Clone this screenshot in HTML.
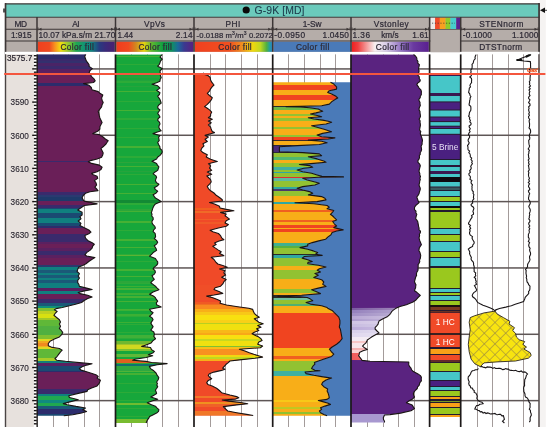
<!DOCTYPE html>
<html><head><meta charset="utf-8"><style>
html,body{margin:0;padding:0;background:#fff;}
body{width:550px;height:433px;overflow:hidden;position:relative;font-family:"Liberation Sans",Arial,sans-serif;}
svg text{font-family:"Liberation Sans",Arial,sans-serif;}
</style></head><body>
<svg width="550" height="433" viewBox="0 0 550 433" style="position:absolute;left:0;top:0"><defs><pattern id="hatch" width="7.6" height="7.6" patternUnits="userSpaceOnUse" patternTransform="translate(495 311) rotate(45)"><rect width="7.6" height="7.6" fill="#f8e410"/><path d="M0 0H7.6M0 0V7.6" stroke="#8c7c48" stroke-width="1.1"/></pattern></defs><rect x="0" y="0" width="550" height="433" fill="#ffffff"/><rect x="539.5" y="0" width="6.3" height="427" fill="#f5f3f2"/><rect x="5.5" y="54.2" width="533.5" height="372.8" fill="#ffffff"/><rect x="5.5" y="54.2" width="31.5" height="372.8" fill="#e7e1dd"/><rect x="53" y="54.2" width="1" height="372.8" fill="#a39b9a"/><rect x="68" y="54.2" width="1" height="372.8" fill="#a39b9a"/><rect x="84" y="54.2" width="1" height="372.8" fill="#a39b9a"/><rect x="99" y="54.2" width="1" height="372.8" fill="#a39b9a"/><rect x="131" y="54.2" width="1" height="372.8" fill="#a39b9a"/><rect x="147" y="54.2" width="1" height="372.8" fill="#a39b9a"/><rect x="162" y="54.2" width="1" height="372.8" fill="#a39b9a"/><rect x="178" y="54.2" width="1" height="372.8" fill="#a39b9a"/><rect x="210" y="54.2" width="1" height="372.8" fill="#a39b9a"/><rect x="225" y="54.2" width="1" height="372.8" fill="#a39b9a"/><rect x="241" y="54.2" width="1" height="372.8" fill="#a39b9a"/><rect x="257" y="54.2" width="1" height="372.8" fill="#a39b9a"/><rect x="288" y="54.2" width="1" height="372.8" fill="#a39b9a"/><rect x="304" y="54.2" width="1" height="372.8" fill="#a39b9a"/><rect x="320" y="54.2" width="1" height="372.8" fill="#a39b9a"/><rect x="335" y="54.2" width="1" height="372.8" fill="#a39b9a"/><rect x="367" y="54.2" width="1" height="372.8" fill="#a39b9a"/><rect x="383" y="54.2" width="1" height="372.8" fill="#a39b9a"/><rect x="398" y="54.2" width="1" height="372.8" fill="#a39b9a"/><rect x="414" y="54.2" width="1" height="372.8" fill="#a39b9a"/><rect x="477" y="54.2" width="1" height="372.8" fill="#a39b9a"/><rect x="492" y="54.2" width="1" height="372.8" fill="#a39b9a"/><rect x="508" y="54.2" width="1" height="372.8" fill="#a39b9a"/><rect x="523" y="54.2" width="1" height="372.8" fill="#a39b9a"/><rect x="37" y="68.18" width="502" height="1.5" fill="#5e5656"/><rect x="37" y="134.52" width="502" height="1.5" fill="#5e5656"/><rect x="37" y="200.86" width="502" height="1.5" fill="#5e5656"/><rect x="37" y="267.20" width="502" height="1.5" fill="#5e5656"/><rect x="37" y="333.54" width="502" height="1.5" fill="#5e5656"/><rect x="37" y="399.88" width="502" height="1.5" fill="#5e5656"/><clipPath id="c_ai"><polygon points="37,54.2 85.8,54.2 84.7,56.4 85.5,58.7 86.3,60.9 88.0,63.1 89.1,64.8 89.1,66.4 92.4,68.6 90.0,70.5 89.1,73.0 90.8,74.7 91.3,76.4 93.8,78.6 95.2,80.8 93.5,82.5 83.6,83.6 89.1,85.3 91.3,87.5 91.9,89.7 98.2,91.6 99.9,93.3 102.8,95.0 101.6,98.0 102.1,100.2 103.2,102.4 102.1,104.7 101.6,106.9 99.9,109.1 98.2,111.3 98.8,113.5 99.3,115.7 99.9,118.0 101.0,120.2 102.1,122.4 101.0,124.6 99.9,126.8 99.9,129.0 97.7,131.3 93.8,132.9 92.7,133.7 99.3,134.6 102.7,136.8 105.4,139.0 108.2,140.7 107.1,142.3 106.0,144.0 103.8,146.2 101.0,148.4 102.1,150.7 103.2,152.9 102.7,155.1 101.6,157.3 97.1,159.0 90.5,160.6 88.3,161.7 91.6,163.4 99.3,165.1 102.1,167.3 101.0,169.5 97.1,171.7 91.6,173.4 92.7,174.5 97.1,176.2 97.7,178.4 94.4,180.6 96.0,182.8 96.6,185.0 94.9,187.2 97.1,189.5 98.0,190.6 89.9,191.7 85.5,193.3 83.2,195.5 82.1,197.8 83.2,200.0 84.3,201.1 92.1,202.7 97.1,203.9 84.3,205.5 81.0,207.7 77.7,210.0 82.1,212.2 82.1,215.0 79.9,216.6 81.0,218.8 78.2,221.0 81.0,223.3 79.9,225.5 84.3,227.7 88.8,229.9 91.0,232.1 88.8,233.8 84.9,235.5 85.5,238.2 87.7,240.4 92.1,242.7 94.3,244.3 92.7,246.0 92.1,248.2 89.9,250.4 86.6,252.6 84.9,254.8 86.6,256.0 94.9,257.6 92.1,259.3 88.8,261.5 86.0,263.7 82.7,265.4 78.8,267.0 77.7,269.3 77.1,271.5 79.4,273.7 78.2,275.9 79.4,278.1 77.7,280.3 77.7,282.6 78.8,284.2 79.4,286.4 86.6,288.1 92.1,289.5 84.3,290.9 78.2,292.5 79.9,293.6 87.7,295.3 92.1,297.0 87.7,298.6 83.8,300.8 81.6,302.5 75.5,304.2 69.4,305.8 62.2,307.5 56.1,308.6 54.4,309.7 57.2,311.4 55.5,313.0 53.9,315.3 56.6,317.5 59.4,319.7 60.5,321.9 59.4,324.1 60.5,326.3 59.4,328.6 61.1,330.2 62.7,332.4 61.6,334.7 59.4,336.9 54.4,339.1 50.0,341.3 48.3,343.5 48.3,345.7 52.2,347.4 59.4,348.5 62.2,350.2 60.5,351.8 58.8,354.1 57.2,356.3 55.0,358.5 56.6,360.2 65.5,361.3 82.1,362.9 92.1,363.7 86.6,365.1 82.1,366.8 79.4,368.5 81.0,370.1 86.6,371.8 92.1,373.5 96.5,375.1 98.2,376.4 97.1,378.1 100.4,380.3 99.3,383.1 97.1,385.9 91.6,388.1 87.7,389.7 87.1,391.4 77.2,393.6 68.8,395.8 69.4,397.5 78.3,399.7 71.6,401.4 63.3,403.6 67.2,404.7 76.0,406.4 85.5,408.0 82.7,409.7 86.6,411.4 81.6,413.0 72.7,414.7 63.8,415.8 37,415.8"/></clipPath><g clip-path="url(#c_ai)"><g shape-rendering="crispEdges"><rect x="37" y="54.2" width="78.5" height="4.5" fill="#2c2c6c"/><rect x="37" y="58.7" width="78.5" height="2.1999999999999957" fill="#3a2a6c"/><rect x="37" y="60.9" width="78.5" height="2.200000000000003" fill="#33306e"/><rect x="37" y="63.1" width="78.5" height="3.3000000000000043" fill="#4a2466"/><rect x="37" y="66.4" width="78.5" height="2.1999999999999886" fill="#3a2a6c"/><rect x="37" y="68.6" width="78.5" height="3.9000000000000057" fill="#5a2060"/><rect x="37" y="72.5" width="78.5" height="10.5" fill="#6a1f58"/><rect x="37" y="83" width="78.5" height="2.799999999999997" fill="#2c2c6c"/><rect x="37" y="85.8" width="78.5" height="75.39999999999999" fill="#6a1f58"/><rect x="37" y="161.2" width="78.5" height="1.0" fill="#3a2a6c"/><rect x="37" y="162.2" width="78.5" height="30.0" fill="#6a1f58"/><rect x="37" y="192.2" width="78.5" height="2.8000000000000114" fill="#3a2a6c"/><rect x="37" y="195" width="78.5" height="1.6999999999999886" fill="#2a3a70"/><rect x="37" y="196.7" width="78.5" height="3.8000000000000114" fill="#1e3a6a"/><rect x="37" y="200.5" width="78.5" height="4.5" fill="#6a1f58"/><rect x="37" y="205" width="78.5" height="2.6999999999999886" fill="#3a2a6c"/><rect x="37" y="207.7" width="78.5" height="1.700000000000017" fill="#1a4a72"/><rect x="37" y="209.4" width="78.5" height="3.9000000000000057" fill="#10807f"/><rect x="37" y="213.3" width="78.5" height="5.0" fill="#1a4a72"/><rect x="37" y="218.3" width="78.5" height="4.399999999999977" fill="#10807f"/><rect x="37" y="222.7" width="78.5" height="2.8000000000000114" fill="#1a4a72"/><rect x="37" y="225.5" width="78.5" height="2.6999999999999886" fill="#2c2c6c"/><rect x="37" y="228.2" width="78.5" height="5.600000000000023" fill="#6a1f58"/><rect x="37" y="233.8" width="78.5" height="7.699999999999989" fill="#3a2a6c"/><rect x="37" y="241.5" width="78.5" height="2.8000000000000114" fill="#5a2060"/><rect x="37" y="244.3" width="78.5" height="3.8999999999999773" fill="#6a1f58"/><rect x="37" y="248.2" width="78.5" height="2.8000000000000114" fill="#5a2060"/><rect x="37" y="251" width="78.5" height="4.400000000000006" fill="#3a2a6c"/><rect x="37" y="255.4" width="78.5" height="2.200000000000017" fill="#5a2060"/><rect x="37" y="257.6" width="78.5" height="7.199999999999989" fill="#6a1f58"/><rect x="37" y="264.8" width="78.5" height="2.1999999999999886" fill="#2a3a6e"/><rect x="37" y="267" width="78.5" height="3.3999999999999773" fill="#10807f"/><rect x="37" y="270.4" width="78.5" height="2.2000000000000455" fill="#1a5a78"/><rect x="37" y="272.6" width="78.5" height="2.7999999999999545" fill="#10807f"/><rect x="37" y="275.4" width="78.5" height="2.2000000000000455" fill="#1a5a78"/><rect x="37" y="277.6" width="78.5" height="2.6999999999999886" fill="#10807f"/><rect x="37" y="280.3" width="78.5" height="2.1999999999999886" fill="#1a5a78"/><rect x="37" y="282.5" width="78.5" height="5.0" fill="#10807f"/><rect x="37" y="287.5" width="78.5" height="3.8999999999999773" fill="#5a2060"/><rect x="37" y="291.4" width="78.5" height="2.8000000000000114" fill="#10807f"/><rect x="37" y="294.2" width="78.5" height="5.0" fill="#6a1f58"/><rect x="37" y="299.2" width="78.5" height="3.900000000000034" fill="#3a2a6c"/><rect x="37" y="303.1" width="78.5" height="2.6999999999999886" fill="#1a5a78"/><rect x="37" y="305.8" width="78.5" height="2.1999999999999886" fill="#10907a"/><rect x="37" y="308" width="78.5" height="2.8000000000000114" fill="#80c030"/><rect x="37" y="310.8" width="78.5" height="2.8000000000000114" fill="#c0d020"/><rect x="37" y="313.6" width="78.5" height="3.8999999999999773" fill="#d8e010"/><rect x="37" y="317.5" width="78.5" height="2.6999999999999886" fill="#a0c828"/><rect x="37" y="320.2" width="78.5" height="6.100000000000023" fill="#60b838"/><rect x="37" y="326.3" width="78.5" height="8.399999999999977" fill="#50b040"/><rect x="37" y="334.7" width="78.5" height="3.8000000000000114" fill="#80c030"/><rect x="37" y="338.5" width="78.5" height="2.8000000000000114" fill="#e0d820"/><rect x="37" y="341.3" width="78.5" height="1.6999999999999886" fill="#f0a820"/><rect x="37" y="343" width="78.5" height="3" fill="#f08a20"/><rect x="37" y="346" width="78.5" height="1.3999999999999773" fill="#f0b020"/><rect x="37" y="347.4" width="78.5" height="1.1000000000000227" fill="#e0d820"/><rect x="37" y="348.5" width="78.5" height="9.399999999999977" fill="#60b838"/><rect x="37" y="357.9" width="78.5" height="3.400000000000034" fill="#a8cc28"/><rect x="37" y="361.3" width="78.5" height="1.599999999999966" fill="#10807a"/><rect x="37" y="362.9" width="78.5" height="3.3000000000000114" fill="#5a2060"/><rect x="37" y="366.2" width="78.5" height="4.5" fill="#1a4a72"/><rect x="37" y="370.7" width="78.5" height="1.6000000000000227" fill="#2c2c6c"/><rect x="37" y="372.3" width="78.5" height="16.30000000000001" fill="#6a1f58"/><rect x="37" y="388.6" width="78.5" height="5.599999999999966" fill="#3a2a6c"/><rect x="37" y="394.2" width="78.5" height="1.6000000000000227" fill="#10807f"/><rect x="37" y="395.8" width="78.5" height="3.8999999999999773" fill="#20a850"/><rect x="37" y="399.7" width="78.5" height="2.8000000000000114" fill="#108a80"/><rect x="37" y="402.5" width="78.5" height="3.8999999999999773" fill="#20a850"/><rect x="37" y="406.4" width="78.5" height="2.2000000000000455" fill="#1a5a78"/><rect x="37" y="408.6" width="78.5" height="5.0" fill="#2c2c6c"/><rect x="37" y="413.6" width="78.5" height="2.1999999999999886" fill="#1a4a72"/></g></g><polyline points="85.8,54.2 84.7,56.4 85.5,58.7 86.3,60.9 88.0,63.1 89.1,64.8 89.1,66.4 92.4,68.6 90.0,70.5 89.1,73.0 90.8,74.7 91.3,76.4 93.8,78.6 95.2,80.8 93.5,82.5 83.6,83.6 89.1,85.3 91.3,87.5 91.9,89.7 98.2,91.6 99.9,93.3 102.8,95.0 101.6,98.0 102.1,100.2 103.2,102.4 102.1,104.7 101.6,106.9 99.9,109.1 98.2,111.3 98.8,113.5 99.3,115.7 99.9,118.0 101.0,120.2 102.1,122.4 101.0,124.6 99.9,126.8 99.9,129.0 97.7,131.3 93.8,132.9 92.7,133.7 99.3,134.6 102.7,136.8 105.4,139.0 108.2,140.7 107.1,142.3 106.0,144.0 103.8,146.2 101.0,148.4 102.1,150.7 103.2,152.9 102.7,155.1 101.6,157.3 97.1,159.0 90.5,160.6 88.3,161.7 91.6,163.4 99.3,165.1 102.1,167.3 101.0,169.5 97.1,171.7 91.6,173.4 92.7,174.5 97.1,176.2 97.7,178.4 94.4,180.6 96.0,182.8 96.6,185.0 94.9,187.2 97.1,189.5 98.0,190.6 89.9,191.7 85.5,193.3 83.2,195.5 82.1,197.8 83.2,200.0 84.3,201.1 92.1,202.7 97.1,203.9 84.3,205.5 81.0,207.7 77.7,210.0 82.1,212.2 82.1,215.0 79.9,216.6 81.0,218.8 78.2,221.0 81.0,223.3 79.9,225.5 84.3,227.7 88.8,229.9 91.0,232.1 88.8,233.8 84.9,235.5 85.5,238.2 87.7,240.4 92.1,242.7 94.3,244.3 92.7,246.0 92.1,248.2 89.9,250.4 86.6,252.6 84.9,254.8 86.6,256.0 94.9,257.6 92.1,259.3 88.8,261.5 86.0,263.7 82.7,265.4 78.8,267.0 77.7,269.3 77.1,271.5 79.4,273.7 78.2,275.9 79.4,278.1 77.7,280.3 77.7,282.6 78.8,284.2 79.4,286.4 86.6,288.1 92.1,289.5 84.3,290.9 78.2,292.5 79.9,293.6 87.7,295.3 92.1,297.0 87.7,298.6 83.8,300.8 81.6,302.5 75.5,304.2 69.4,305.8 62.2,307.5 56.1,308.6 54.4,309.7 57.2,311.4 55.5,313.0 53.9,315.3 56.6,317.5 59.4,319.7 60.5,321.9 59.4,324.1 60.5,326.3 59.4,328.6 61.1,330.2 62.7,332.4 61.6,334.7 59.4,336.9 54.4,339.1 50.0,341.3 48.3,343.5 48.3,345.7 52.2,347.4 59.4,348.5 62.2,350.2 60.5,351.8 58.8,354.1 57.2,356.3 55.0,358.5 56.6,360.2 65.5,361.3 82.1,362.9 92.1,363.7 86.6,365.1 82.1,366.8 79.4,368.5 81.0,370.1 86.6,371.8 92.1,373.5 96.5,375.1 98.2,376.4 97.1,378.1 100.4,380.3 99.3,383.1 97.1,385.9 91.6,388.1 87.7,389.7 87.1,391.4 77.2,393.6 68.8,395.8 69.4,397.5 78.3,399.7 71.6,401.4 63.3,403.6 67.2,404.7 76.0,406.4 85.5,408.0 82.7,409.7 86.6,411.4 81.6,413.0 72.7,414.7 63.8,415.8" fill="none" stroke="#1a1414" stroke-width="1.1" stroke-linejoin="round"/><clipPath id="c_vp"><polygon points="115.5,54.4 162.3,54.4 160.0,57.0 162.3,59.2 160.5,61.0 160.0,62.7 159.2,64.5 157.7,66.2 162.3,68.5 160.0,70.8 160.2,72.5 160.0,74.2 160.6,76.0 161.2,77.7 160.1,79.5 160.0,81.2 156.5,82.7 152.0,84.2 157.7,85.8 160.0,88.1 156.6,90.4 160.0,92.7 159.4,94.5 157.7,96.2 158.9,97.9 160.0,99.6 160.6,101.3 161.2,103.1 159.0,104.8 157.7,106.6 158.0,108.3 160.0,110.0 158.6,111.8 157.7,113.5 159.0,115.2 160.0,117.0 158.1,118.7 157.7,120.4 159.4,122.2 160.0,123.9 159.0,125.7 158.9,127.4 159.6,129.1 161.2,130.8 153.0,133.6 160.0,135.5 158.6,137.2 158.9,138.9 159.2,140.7 157.7,142.4 158.9,145.0 159.9,146.8 160.0,148.5 161.8,150.2 162.3,151.9 161.4,153.7 160.0,155.4 157.5,157.2 156.6,158.9 152.0,161.2 156.6,163.5 157.4,165.2 158.9,166.9 158.3,168.7 157.7,170.4 154.7,172.2 153.1,173.9 155.7,175.6 156.6,177.3 155.8,179.1 155.4,180.8 156.5,182.6 158.9,184.3 157.2,186.0 154.3,187.7 155.3,189.4 157.7,191.2 156.2,192.9 153.1,194.7 154.2,196.4 155.4,198.1 158.4,199.8 161.2,201.6 155.4,203.9 154.0,205.7 153.1,207.4 152.5,209.1 152.0,210.8 151.4,212.6 152.0,214.3 151.7,216.0 153.1,217.7 153.2,219.4 152.0,221.2 152.1,222.9 153.1,224.7 154.8,226.4 155.4,228.1 153.7,229.8 153.1,231.6 155.1,233.3 155.4,235.0 155.6,236.8 154.3,238.5 156.5,240.4 157.7,242.3 156.5,244.1 154.3,245.8 155.2,247.3 156.2,248.9 156.6,250.4 153.6,252.2 152.0,253.9 149.6,256.2 155.4,258.5 156.5,260.2 157.7,261.9 157.7,263.6 156.6,265.4 154.3,267.1 153.1,268.9 155.0,270.6 155.4,272.3 154.4,274.1 152.0,275.8 153.0,277.6 154.3,279.3 152.3,281.0 150.8,282.7 153.0,284.4 155.4,286.2 156.9,287.9 158.9,289.7 153.1,292.0 149.6,294.3 153.4,296.0 155.4,297.7 156.3,299.4 157.7,301.2 156.3,302.9 156.6,304.7 161.2,307.0 149.6,309.3 150.6,311.0 153.1,312.7 151.7,314.4 149.6,316.2 152.2,317.9 153.1,319.7 151.9,321.4 150.8,323.1 151.9,324.9 153.1,326.6 152.0,328.4 150.8,330.1 153.8,332.0 154.4,334.2 153.8,336.4 155.5,338.7 152.7,340.9 151.0,343.1 146.6,344.7 141.6,346.4 150.5,347.5 151.6,349.7 154.4,351.4 152.7,353.1 148.3,354.7 152.7,355.8 146.0,357.5 135.0,359.2 132.7,360.3 146.0,361.4 151.6,362.5 167.1,363.6 157.1,364.7 149.4,366.4 150.5,368.6 153.8,370.8 156.0,373.0 157.1,375.2 158.8,377.5 158.2,379.7 156.6,382.0 157.4,383.5 156.8,385.1 157.7,386.6 156.7,388.3 155.4,390.0 156.1,391.8 156.6,393.5 153.9,395.2 150.8,397.0 157.7,399.3 151.9,401.0 147.3,402.7 150.8,404.4 155.4,406.2 156.9,407.9 158.9,409.7 158.5,411.4 156.6,413.1 152.8,414.9 149.6,416.6 148.6,418.4 147.3,420.1 146.1,423.0 115.5,423.0"/></clipPath><g clip-path="url(#c_vp)"><g shape-rendering="crispEdges"><rect x="115.5" y="54.4" width="78.5" height="368.6" fill="#17a73b"/><rect x="115.5" y="56.0" width="78.5" height="1.2000000000000028" fill="#46b134"/><rect x="115.5" y="64.3" width="78.5" height="1.0" fill="#2dab38"/><rect x="115.5" y="72.9" width="78.5" height="1.5" fill="#46b134"/><rect x="115.5" y="81.4" width="78.5" height="1.5" fill="#2dab38"/><rect x="115.5" y="90.5" width="78.5" height="1.0" fill="#46b134"/><rect x="115.5" y="100.6" width="78.5" height="1.0" fill="#2dab38"/><rect x="115.5" y="109.7" width="78.5" height="1.0" fill="#46b134"/><rect x="115.5" y="118.4" width="78.5" height="1.5" fill="#2dab38"/><rect x="115.5" y="128.3" width="78.5" height="1.0" fill="#2dab38"/><rect x="115.5" y="136.7" width="78.5" height="1.0" fill="#2dab38"/><rect x="115.5" y="146.4" width="78.5" height="1.5" fill="#46b134"/><rect x="115.5" y="156.1" width="78.5" height="1.5" fill="#2dab38"/><rect x="115.5" y="165.9" width="78.5" height="1.0" fill="#46b134"/><rect x="115.5" y="174.0" width="78.5" height="1.0" fill="#2dab38"/><rect x="115.5" y="184.3" width="78.5" height="1.0" fill="#46b134"/><rect x="115.5" y="192.8" width="78.5" height="1.5" fill="#46b134"/><rect x="115.5" y="203.2" width="78.5" height="1.5" fill="#2dab38"/><rect x="115.5" y="211.2" width="78.5" height="1.200000000000017" fill="#46b134"/><rect x="115.5" y="221.0" width="78.5" height="1.5" fill="#46b134"/><rect x="115.5" y="229.5" width="78.5" height="1.1999999999999886" fill="#2dab38"/><rect x="115.5" y="239.3" width="78.5" height="1.1999999999999886" fill="#46b134"/><rect x="115.5" y="247.1" width="78.5" height="1.0" fill="#46b134"/><rect x="115.5" y="253.7" width="78.5" height="1.200000000000017" fill="#2dab38"/><rect x="115.5" y="261.1" width="78.5" height="1.1999999999999886" fill="#2dab38"/><rect x="115.5" y="269.1" width="78.5" height="1.5" fill="#46b134"/><rect x="115.5" y="275.7" width="78.5" height="1.5" fill="#46b134"/><rect x="115.5" y="282.7" width="78.5" height="1.5" fill="#2dab38"/><rect x="115.5" y="288.3" width="78.5" height="1.1999999999999886" fill="#46b134"/><rect x="115.5" y="296.1" width="78.5" height="1.5" fill="#46b134"/><rect x="115.5" y="301.4" width="78.5" height="1.0" fill="#46b134"/><rect x="115.5" y="308.7" width="78.5" height="1.0" fill="#46b134"/><rect x="115.5" y="315.9" width="78.5" height="1.5" fill="#2dab38"/><rect x="115.5" y="323.7" width="78.5" height="1.1999999999999886" fill="#2dab38"/><rect x="115.5" y="331.7" width="78.5" height="1.0" fill="#2dab38"/><rect x="115.5" y="337.6" width="78.5" height="1.0" fill="#2dab38"/><rect x="115.5" y="373.3" width="78.5" height="1.1999999999999886" fill="#46b134"/><rect x="115.5" y="382.5" width="78.5" height="1.0" fill="#2dab38"/><rect x="115.5" y="391.6" width="78.5" height="1.5" fill="#2dab38"/><rect x="115.5" y="400.1" width="78.5" height="1.0" fill="#2dab38"/><rect x="115.5" y="408.0" width="78.5" height="1.0" fill="#2dab38"/><rect x="115.5" y="415.8" width="78.5" height="1.0" fill="#2dab38"/><rect x="115.5" y="76" width="78.5" height="2" fill="#22a43d"/><rect x="115.5" y="80" width="78.5" height="1" fill="#22a43d"/><rect x="115.5" y="86" width="78.5" height="1" fill="#26a43c"/><rect x="115.5" y="162" width="78.5" height="1" fill="#2ca63a"/><rect x="115.5" y="171" width="78.5" height="1" fill="#26a43c"/><rect x="115.5" y="200" width="78.5" height="3" fill="#128a34"/><rect x="115.5" y="209" width="78.5" height="2" fill="#2ca63a"/><rect x="115.5" y="254.8" width="78.5" height="1.1999999999999886" fill="#5cb434"/><rect x="115.5" y="281" width="78.5" height="2" fill="#2ca63a"/><rect x="115.5" y="285.7" width="78.5" height="1.1000000000000227" fill="#3cb034"/><rect x="115.5" y="292.9" width="78.5" height="2.2000000000000455" fill="#3cb034"/><rect x="115.5" y="309.5" width="78.5" height="1.6999999999999886" fill="#3cb034"/><rect x="115.5" y="313.9" width="78.5" height="1.7000000000000455" fill="#3cb034"/><rect x="115.5" y="321.7" width="78.5" height="1.6999999999999886" fill="#3cb034"/><rect x="115.5" y="335.3" width="78.5" height="2.1999999999999886" fill="#40b038"/><rect x="115.5" y="340.9" width="78.5" height="3.3000000000000114" fill="#70b830"/><rect x="115.5" y="344.2" width="78.5" height="1.1000000000000227" fill="#a0c428"/><rect x="115.5" y="345.3" width="78.5" height="3.3000000000000114" fill="#d0d820"/><rect x="115.5" y="348.6" width="78.5" height="2.7999999999999545" fill="#80c030"/><rect x="115.5" y="353.6" width="78.5" height="3.3999999999999773" fill="#60b838"/><rect x="115.5" y="359.2" width="78.5" height="3.3000000000000114" fill="#e06020"/><rect x="115.5" y="362.5" width="78.5" height="1.1000000000000227" fill="#30a838"/><rect x="115.5" y="363.6" width="78.5" height="2.1999999999999886" fill="#107070"/><rect x="115.5" y="365.8" width="78.5" height="5.0" fill="#30a840"/><rect x="115.5" y="370.8" width="78.5" height="1.1999999999999886" fill="#50b438"/><rect x="115.5" y="402.7" width="78.5" height="2.3000000000000114" fill="#70bc30"/><rect x="115.5" y="419" width="78.5" height="4" fill="#78bc30"/></g></g><polyline points="162.3,54.4 160.0,57.0 162.3,59.2 160.5,61.0 160.0,62.7 159.2,64.5 157.7,66.2 162.3,68.5 160.0,70.8 160.2,72.5 160.0,74.2 160.6,76.0 161.2,77.7 160.1,79.5 160.0,81.2 156.5,82.7 152.0,84.2 157.7,85.8 160.0,88.1 156.6,90.4 160.0,92.7 159.4,94.5 157.7,96.2 158.9,97.9 160.0,99.6 160.6,101.3 161.2,103.1 159.0,104.8 157.7,106.6 158.0,108.3 160.0,110.0 158.6,111.8 157.7,113.5 159.0,115.2 160.0,117.0 158.1,118.7 157.7,120.4 159.4,122.2 160.0,123.9 159.0,125.7 158.9,127.4 159.6,129.1 161.2,130.8 153.0,133.6 160.0,135.5 158.6,137.2 158.9,138.9 159.2,140.7 157.7,142.4 158.9,145.0 159.9,146.8 160.0,148.5 161.8,150.2 162.3,151.9 161.4,153.7 160.0,155.4 157.5,157.2 156.6,158.9 152.0,161.2 156.6,163.5 157.4,165.2 158.9,166.9 158.3,168.7 157.7,170.4 154.7,172.2 153.1,173.9 155.7,175.6 156.6,177.3 155.8,179.1 155.4,180.8 156.5,182.6 158.9,184.3 157.2,186.0 154.3,187.7 155.3,189.4 157.7,191.2 156.2,192.9 153.1,194.7 154.2,196.4 155.4,198.1 158.4,199.8 161.2,201.6 155.4,203.9 154.0,205.7 153.1,207.4 152.5,209.1 152.0,210.8 151.4,212.6 152.0,214.3 151.7,216.0 153.1,217.7 153.2,219.4 152.0,221.2 152.1,222.9 153.1,224.7 154.8,226.4 155.4,228.1 153.7,229.8 153.1,231.6 155.1,233.3 155.4,235.0 155.6,236.8 154.3,238.5 156.5,240.4 157.7,242.3 156.5,244.1 154.3,245.8 155.2,247.3 156.2,248.9 156.6,250.4 153.6,252.2 152.0,253.9 149.6,256.2 155.4,258.5 156.5,260.2 157.7,261.9 157.7,263.6 156.6,265.4 154.3,267.1 153.1,268.9 155.0,270.6 155.4,272.3 154.4,274.1 152.0,275.8 153.0,277.6 154.3,279.3 152.3,281.0 150.8,282.7 153.0,284.4 155.4,286.2 156.9,287.9 158.9,289.7 153.1,292.0 149.6,294.3 153.4,296.0 155.4,297.7 156.3,299.4 157.7,301.2 156.3,302.9 156.6,304.7 161.2,307.0 149.6,309.3 150.6,311.0 153.1,312.7 151.7,314.4 149.6,316.2 152.2,317.9 153.1,319.7 151.9,321.4 150.8,323.1 151.9,324.9 153.1,326.6 152.0,328.4 150.8,330.1 153.8,332.0 154.4,334.2 153.8,336.4 155.5,338.7 152.7,340.9 151.0,343.1 146.6,344.7 141.6,346.4 150.5,347.5 151.6,349.7 154.4,351.4 152.7,353.1 148.3,354.7 152.7,355.8 146.0,357.5 135.0,359.2 132.7,360.3 146.0,361.4 151.6,362.5 167.1,363.6 157.1,364.7 149.4,366.4 150.5,368.6 153.8,370.8 156.0,373.0 157.1,375.2 158.8,377.5 158.2,379.7 156.6,382.0 157.4,383.5 156.8,385.1 157.7,386.6 156.7,388.3 155.4,390.0 156.1,391.8 156.6,393.5 153.9,395.2 150.8,397.0 157.7,399.3 151.9,401.0 147.3,402.7 150.8,404.4 155.4,406.2 156.9,407.9 158.9,409.7 158.5,411.4 156.6,413.1 152.8,414.9 149.6,416.6 148.6,418.4 147.3,420.1 146.1,423.0" fill="none" stroke="#1a1414" stroke-width="1.1" stroke-linejoin="round"/><clipPath id="c_phi"><polygon points="194,72.8 203.4,72.8 204.5,74.4 207.9,75.5 210.1,77.2 210.6,80.0 211.7,82.2 214.0,85.0 212.3,86.6 210.6,88.8 209.5,91.1 207.3,93.3 209.5,95.5 212.3,97.7 211.2,99.9 209.5,102.2 207.3,104.4 204.5,106.6 207.3,108.2 209.5,109.9 211.7,112.1 210.6,114.3 210.6,116.0 208.4,117.7 212.3,119.3 208.4,121.0 211.2,122.7 208.4,124.9 210.6,127.1 211.2,129.3 212.3,131.5 214.5,132.6 210.6,133.7 205.1,135.4 208.4,137.1 205.1,139.3 207.3,141.5 202.9,143.7 204.0,145.9 201.8,148.2 200.7,150.4 202.9,152.6 207.3,154.8 206.2,157.0 210.6,159.2 217.3,161.5 213.0,162.5 208.4,163.7 210.6,165.9 209.5,168.1 211.7,170.3 207.3,172.0 211.7,174.2 206.7,175.9 208.4,177.5 210.6,179.7 211.2,182.0 209.5,184.2 207.3,186.4 208.4,188.6 210.6,190.8 214.0,193.0 216.2,195.3 219.5,197.5 222.3,199.7 222.3,201.0 209.5,202.5 214.5,204.1 219.5,206.3 220.0,208.0 225.0,209.1 233.9,210.8 220.6,212.4 226.2,214.1 225.0,215.8 227.3,217.4 229.5,219.1 226.2,220.7 225.0,223.0 228.4,224.6 226.2,226.3 218.4,228.0 210.1,230.2 212.8,231.8 218.4,233.5 220.6,235.7 221.7,237.9 223.9,239.6 218.4,241.3 214.5,242.9 216.2,244.6 212.8,246.2 215.1,247.9 218.4,250.1 221.2,251.8 219.5,253.5 222.8,255.1 223.9,255.7 211.2,257.3 214.0,259.5 215.6,261.8 217.8,264.0 222.8,265.6 227.3,267.3 219.5,269.0 225.0,270.6 223.9,272.8 225.6,275.1 221.7,277.3 226.2,279.5 223.9,281.7 222.8,283.9 220.6,286.2 215.1,287.8 214.0,289.5 219.5,291.7 222.8,293.4 214.0,295.0 206.7,296.1 212.8,297.8 217.3,299.5 220.6,301.1 220.0,303.3 226.6,305.0 237.7,306.7 248.8,308.3 252.7,309.4 253.2,311.1 254.3,313.3 256.6,315.5 259.3,317.2 254.3,318.8 256.6,320.5 258.8,322.2 263.2,323.8 257.7,325.5 261.0,327.2 256.6,328.8 258.8,330.5 254.3,332.2 252.1,333.8 255.5,335.5 258.8,337.1 261.0,338.8 262.1,340.5 258.8,342.1 257.7,344.3 262.6,346.0 260.4,347.7 239.4,349.3 244.9,351.0 249.3,352.7 253.8,354.3 259.3,356.0 262.6,357.1 254.9,358.2 239.4,359.9 229.9,361.0 228.3,362.6 226.1,364.3 222.7,368.2 225.0,369.3 221.6,370.4 213.9,372.1 209.4,373.7 208.3,375.4 209.4,377.0 211.7,378.7 208.3,380.4 206.7,382.6 207.8,384.4 212.2,386.1 216.6,388.3 219.4,390.5 221.6,392.7 229.9,395.0 236.6,396.6 238.8,397.7 235.5,399.1 222.2,400.0 228.8,401.1 242.1,402.7 247.7,403.8 236.6,404.9 223.3,406.6 225.5,408.8 227.7,411.0 236.6,412.7 246.6,414.4 253.2,415.5 194,415.5"/></clipPath><g clip-path="url(#c_phi)"><g shape-rendering="crispEdges"><rect x="194" y="72.8" width="78.69999999999999" height="342.7" fill="#f04a28"/><rect x="194" y="208" width="78.69999999999999" height="1.5" fill="#f06020"/><rect x="194" y="210.8" width="78.69999999999999" height="2.1999999999999886" fill="#f06a28"/><rect x="194" y="218.5" width="78.69999999999999" height="1.6999999999999886" fill="#f05e28"/><rect x="194" y="221.5" width="78.69999999999999" height="2.0" fill="#f05a28"/><rect x="194" y="285" width="78.69999999999999" height="15" fill="#f04e28"/><rect x="194" y="302" width="78.69999999999999" height="1.5" fill="#f05a24"/><rect x="194" y="303.5" width="78.69999999999999" height="1.8000000000000114" fill="#f07020"/><rect x="194" y="305.3" width="78.69999999999999" height="3.3999999999999773" fill="#f88a20"/><rect x="194" y="308.7" width="78.69999999999999" height="3.3000000000000114" fill="#f8b018"/><rect x="194" y="312" width="78.69999999999999" height="2.6999999999999886" fill="#f8c818"/><rect x="194" y="314.7" width="78.69999999999999" height="5.0" fill="#f8e010"/><rect x="194" y="319.7" width="78.69999999999999" height="3.3000000000000114" fill="#f8d018"/><rect x="194" y="323" width="78.69999999999999" height="1.1999999999999886" fill="#b8d020"/><rect x="194" y="324.2" width="78.69999999999999" height="5.5" fill="#f0e010"/><rect x="194" y="329.7" width="78.69999999999999" height="2.8000000000000114" fill="#f8b818"/><rect x="194" y="332.5" width="78.69999999999999" height="2.8000000000000114" fill="#f8a818"/><rect x="194" y="335.3" width="78.69999999999999" height="3.8000000000000114" fill="#f8e010"/><rect x="194" y="339.1" width="78.69999999999999" height="1.6999999999999886" fill="#c8d820"/><rect x="194" y="340.8" width="78.69999999999999" height="5.0" fill="#f0e010"/><rect x="194" y="345.8" width="78.69999999999999" height="1.099999999999966" fill="#80c030"/><rect x="194" y="346.9" width="78.69999999999999" height="2.400000000000034" fill="#f8c018"/><rect x="194" y="349.3" width="78.69999999999999" height="5.599999999999966" fill="#f89020"/><rect x="194" y="354.9" width="78.69999999999999" height="1.6000000000000227" fill="#f0d810"/><rect x="194" y="356.5" width="78.69999999999999" height="2.8000000000000114" fill="#c0d820"/><rect x="194" y="359.3" width="78.69999999999999" height="1.6999999999999886" fill="#f8b018"/><rect x="194" y="395.5" width="78.69999999999999" height="2.8000000000000114" fill="#f07828"/><rect x="194" y="401.6" width="78.69999999999999" height="2.1999999999999886" fill="#f09020"/><rect x="194" y="403.8" width="78.69999999999999" height="2.8000000000000114" fill="#f06028"/><rect x="194" y="411" width="78.69999999999999" height="4.5" fill="#f07828"/></g></g><polyline points="203.4,72.8 204.5,74.4 207.9,75.5 210.1,77.2 210.6,80.0 211.7,82.2 214.0,85.0 212.3,86.6 210.6,88.8 209.5,91.1 207.3,93.3 209.5,95.5 212.3,97.7 211.2,99.9 209.5,102.2 207.3,104.4 204.5,106.6 207.3,108.2 209.5,109.9 211.7,112.1 210.6,114.3 210.6,116.0 208.4,117.7 212.3,119.3 208.4,121.0 211.2,122.7 208.4,124.9 210.6,127.1 211.2,129.3 212.3,131.5 214.5,132.6 210.6,133.7 205.1,135.4 208.4,137.1 205.1,139.3 207.3,141.5 202.9,143.7 204.0,145.9 201.8,148.2 200.7,150.4 202.9,152.6 207.3,154.8 206.2,157.0 210.6,159.2 217.3,161.5 213.0,162.5 208.4,163.7 210.6,165.9 209.5,168.1 211.7,170.3 207.3,172.0 211.7,174.2 206.7,175.9 208.4,177.5 210.6,179.7 211.2,182.0 209.5,184.2 207.3,186.4 208.4,188.6 210.6,190.8 214.0,193.0 216.2,195.3 219.5,197.5 222.3,199.7 222.3,201.0 209.5,202.5 214.5,204.1 219.5,206.3 220.0,208.0 225.0,209.1 233.9,210.8 220.6,212.4 226.2,214.1 225.0,215.8 227.3,217.4 229.5,219.1 226.2,220.7 225.0,223.0 228.4,224.6 226.2,226.3 218.4,228.0 210.1,230.2 212.8,231.8 218.4,233.5 220.6,235.7 221.7,237.9 223.9,239.6 218.4,241.3 214.5,242.9 216.2,244.6 212.8,246.2 215.1,247.9 218.4,250.1 221.2,251.8 219.5,253.5 222.8,255.1 223.9,255.7 211.2,257.3 214.0,259.5 215.6,261.8 217.8,264.0 222.8,265.6 227.3,267.3 219.5,269.0 225.0,270.6 223.9,272.8 225.6,275.1 221.7,277.3 226.2,279.5 223.9,281.7 222.8,283.9 220.6,286.2 215.1,287.8 214.0,289.5 219.5,291.7 222.8,293.4 214.0,295.0 206.7,296.1 212.8,297.8 217.3,299.5 220.6,301.1 220.0,303.3 226.6,305.0 237.7,306.7 248.8,308.3 252.7,309.4 253.2,311.1 254.3,313.3 256.6,315.5 259.3,317.2 254.3,318.8 256.6,320.5 258.8,322.2 263.2,323.8 257.7,325.5 261.0,327.2 256.6,328.8 258.8,330.5 254.3,332.2 252.1,333.8 255.5,335.5 258.8,337.1 261.0,338.8 262.1,340.5 258.8,342.1 257.7,344.3 262.6,346.0 260.4,347.7 239.4,349.3 244.9,351.0 249.3,352.7 253.8,354.3 259.3,356.0 262.6,357.1 254.9,358.2 239.4,359.9 229.9,361.0 228.3,362.6 226.1,364.3 222.7,368.2 225.0,369.3 221.6,370.4 213.9,372.1 209.4,373.7 208.3,375.4 209.4,377.0 211.7,378.7 208.3,380.4 206.7,382.6 207.8,384.4 212.2,386.1 216.6,388.3 219.4,390.5 221.6,392.7 229.9,395.0 236.6,396.6 238.8,397.7 235.5,399.1 222.2,400.0 228.8,401.1 242.1,402.7 247.7,403.8 236.6,404.9 223.3,406.6 225.5,408.8 227.7,411.0 236.6,412.7 246.6,414.4 253.2,415.5" fill="none" stroke="#1a1414" stroke-width="1.1" stroke-linejoin="round"/><polygon points="351,82.2 330.5,82.2 333.8,84.1 336.6,86.9 336.6,89.1 329.3,90.7 327.7,92.4 331.6,94.1 336.0,96.3 337.7,98.0 334.9,99.6 331.6,101.8 329.3,104.1 321.6,105.7 300.0,106.3 286.0,106.6 300.0,106.9 309.4,107.7 318.3,109.0 320.5,110.2 322.7,111.3 316.0,112.9 310.5,114.0 318.3,115.7 321.6,116.8 308.3,117.7 313.8,119.0 322.7,120.1 328.2,121.2 331.6,122.3 326.0,124.0 311.6,125.7 317.1,127.3 324.9,129.5 331.5,131.8 322.7,133.4 317.1,135.1 321.6,136.7 334.9,137.9 328.2,139.0 308.3,140.1 321.6,141.2 327.1,142.8 319.3,144.5 297.2,145.6 279.4,146.7 279.4,151.7 302.7,152.6 319.3,153.9 321.6,155.6 308.3,156.7 317.1,158.9 323.8,161.1 326.0,162.2 313.8,163.4 299.4,164.5 309.4,165.6 312.7,167.2 303.8,168.3 297.2,170.0 302.7,171.7 311.6,173.3 317.1,175.0 322.0,176.4 343.5,176.9 318.0,177.3 302.7,178.3 307.2,180.0 316.0,182.2 319.3,183.3 314.9,185.0 302.7,186.6 297.2,188.3 302.7,190.0 309.4,191.6 312.7,193.3 308.3,194.9 321.6,196.6 324.9,198.3 326.0,199.9 317.1,201.6 295.0,202.7 313.8,203.8 327.1,205.5 329.3,207.1 327.1,208.8 333.8,210.5 332.6,212.1 330.4,214.3 332.7,216.0 334.3,217.7 336.6,219.9 332.7,221.5 334.3,223.8 336.6,226.0 333.8,227.6 343.2,229.9 336.6,231.0 332.1,232.6 331.0,234.8 327.7,237.1 325.5,239.3 318.8,240.9 312.2,242.6 307.7,244.3 307.7,245.9 300.0,247.6 307.7,249.3 313.3,250.9 317.7,252.6 315.5,254.2 322.2,255.4 304.4,256.5 302.2,258.1 307.7,259.8 312.2,261.5 308.0,262.4 307.7,263.7 318.3,265.3 326.0,267.0 319.4,268.7 317.2,270.3 320.5,272.0 314.9,273.6 318.3,275.3 313.8,277.5 321.6,279.7 323.8,282.0 322.7,284.2 326.0,286.4 318.3,288.1 311.6,289.7 316.0,291.4 320.5,293.6 301.6,295.3 278.0,296.1 300.0,296.9 307.2,297.5 310.5,299.1 312.7,300.8 306.1,302.5 310.5,304.1 321.6,305.8 327.1,307.5 327.7,308.2 332.1,310.4 334.3,312.7 336.6,314.9 338.8,317.1 339.9,320.4 339.9,323.7 339.3,327.1 340.4,329.3 341.0,332.6 341.6,335.9 342.1,338.7 339.9,341.5 336.6,344.2 332.1,347.0 329.4,349.2 331.6,352.0 333.8,354.2 331.6,356.4 324.9,358.7 318.3,360.9 314.4,362.5 314.9,364.2 312.7,366.4 311.6,368.6 314.9,370.3 320.0,370.8 313.0,371.2 305.0,372.0 306.1,373.6 313.8,375.3 321.6,376.6 331.6,378.1 326.0,380.0 322.7,382.2 321.6,384.4 323.8,386.7 327.7,388.9 327.1,391.1 328.2,393.3 328.8,395.5 329.3,397.7 327.1,399.4 318.3,400.5 322.7,401.6 328.2,403.3 330.5,404.4 324.9,406.1 320.5,407.7 321.6,409.4 319.4,411.0 320.5,412.7 323.8,414.4 327.1,415.7 351,415.7" fill="#4a7ab8"/><clipPath id="c_sw"><polygon points="272.7,82.2 330.5,82.2 333.8,84.1 336.6,86.9 336.6,89.1 329.3,90.7 327.7,92.4 331.6,94.1 336.0,96.3 337.7,98.0 334.9,99.6 331.6,101.8 329.3,104.1 321.6,105.7 300.0,106.3 286.0,106.6 300.0,106.9 309.4,107.7 318.3,109.0 320.5,110.2 322.7,111.3 316.0,112.9 310.5,114.0 318.3,115.7 321.6,116.8 308.3,117.7 313.8,119.0 322.7,120.1 328.2,121.2 331.6,122.3 326.0,124.0 311.6,125.7 317.1,127.3 324.9,129.5 331.5,131.8 322.7,133.4 317.1,135.1 321.6,136.7 334.9,137.9 328.2,139.0 308.3,140.1 321.6,141.2 327.1,142.8 319.3,144.5 297.2,145.6 279.4,146.7 279.4,151.7 302.7,152.6 319.3,153.9 321.6,155.6 308.3,156.7 317.1,158.9 323.8,161.1 326.0,162.2 313.8,163.4 299.4,164.5 309.4,165.6 312.7,167.2 303.8,168.3 297.2,170.0 302.7,171.7 311.6,173.3 317.1,175.0 322.0,176.4 343.5,176.9 318.0,177.3 302.7,178.3 307.2,180.0 316.0,182.2 319.3,183.3 314.9,185.0 302.7,186.6 297.2,188.3 302.7,190.0 309.4,191.6 312.7,193.3 308.3,194.9 321.6,196.6 324.9,198.3 326.0,199.9 317.1,201.6 295.0,202.7 313.8,203.8 327.1,205.5 329.3,207.1 327.1,208.8 333.8,210.5 332.6,212.1 330.4,214.3 332.7,216.0 334.3,217.7 336.6,219.9 332.7,221.5 334.3,223.8 336.6,226.0 333.8,227.6 343.2,229.9 336.6,231.0 332.1,232.6 331.0,234.8 327.7,237.1 325.5,239.3 318.8,240.9 312.2,242.6 307.7,244.3 307.7,245.9 300.0,247.6 307.7,249.3 313.3,250.9 317.7,252.6 315.5,254.2 322.2,255.4 304.4,256.5 302.2,258.1 307.7,259.8 312.2,261.5 308.0,262.4 307.7,263.7 318.3,265.3 326.0,267.0 319.4,268.7 317.2,270.3 320.5,272.0 314.9,273.6 318.3,275.3 313.8,277.5 321.6,279.7 323.8,282.0 322.7,284.2 326.0,286.4 318.3,288.1 311.6,289.7 316.0,291.4 320.5,293.6 301.6,295.3 278.0,296.1 300.0,296.9 307.2,297.5 310.5,299.1 312.7,300.8 306.1,302.5 310.5,304.1 321.6,305.8 327.1,307.5 327.7,308.2 332.1,310.4 334.3,312.7 336.6,314.9 338.8,317.1 339.9,320.4 339.9,323.7 339.3,327.1 340.4,329.3 341.0,332.6 341.6,335.9 342.1,338.7 339.9,341.5 336.6,344.2 332.1,347.0 329.4,349.2 331.6,352.0 333.8,354.2 331.6,356.4 324.9,358.7 318.3,360.9 314.4,362.5 314.9,364.2 312.7,366.4 311.6,368.6 314.9,370.3 320.0,370.8 313.0,371.2 305.0,372.0 306.1,373.6 313.8,375.3 321.6,376.6 331.6,378.1 326.0,380.0 322.7,382.2 321.6,384.4 323.8,386.7 327.7,388.9 327.1,391.1 328.2,393.3 328.8,395.5 329.3,397.7 327.1,399.4 318.3,400.5 322.7,401.6 328.2,403.3 330.5,404.4 324.9,406.1 320.5,407.7 321.6,409.4 319.4,411.0 320.5,412.7 323.8,414.4 327.1,415.7 272.7,415.7"/></clipPath><g clip-path="url(#c_sw)"><g shape-rendering="crispEdges"><rect x="272.7" y="82.2" width="78.30000000000001" height="3.0" fill="#f8ae18"/><rect x="272.7" y="85.2" width="78.30000000000001" height="5.0" fill="#f04420"/><rect x="272.7" y="90.2" width="78.30000000000001" height="5.0" fill="#f8ae18"/><rect x="272.7" y="95.2" width="78.30000000000001" height="4.3999999999999915" fill="#f04420"/><rect x="272.7" y="99.6" width="78.30000000000001" height="6.700000000000003" fill="#f8ae18"/><rect x="272.7" y="106.3" width="78.30000000000001" height="0.7000000000000028" fill="#2a2a2a"/><rect x="272.7" y="107" width="78.30000000000001" height="3.200000000000003" fill="#6ab848"/><rect x="272.7" y="110.2" width="78.30000000000001" height="3.299999999999997" fill="#f8ae18"/><rect x="272.7" y="113.5" width="78.30000000000001" height="2.700000000000003" fill="#92c232"/><rect x="272.7" y="116.2" width="78.30000000000001" height="1.7000000000000028" fill="#f8ae18"/><rect x="272.7" y="117.9" width="78.30000000000001" height="2.799999999999997" fill="#92c232"/><rect x="272.7" y="120.7" width="78.30000000000001" height="6.099999999999994" fill="#f8ae18"/><rect x="272.7" y="126.8" width="78.30000000000001" height="2.200000000000003" fill="#92c232"/><rect x="272.7" y="129" width="78.30000000000001" height="5.5" fill="#f8ae18"/><rect x="272.7" y="134.5" width="78.30000000000001" height="2.1999999999999886" fill="#92c232"/><rect x="272.7" y="136.7" width="78.30000000000001" height="2.8000000000000114" fill="#f04420"/><rect x="272.7" y="139.5" width="78.30000000000001" height="1.0" fill="#3a2a2a"/><rect x="272.7" y="140.5" width="78.30000000000001" height="4.5" fill="#f8ae18"/><rect x="272.7" y="145" width="78.30000000000001" height="1.1999999999999886" fill="#2a2a3a"/><rect x="272.7" y="146.2" width="78.30000000000001" height="6.100000000000023" fill="#4a2a7a"/><rect x="272.7" y="152.3" width="78.30000000000001" height="1.0999999999999943" fill="#2a2a3a"/><rect x="272.7" y="153.4" width="78.30000000000001" height="3.299999999999983" fill="#92c232"/><rect x="272.7" y="156.7" width="78.30000000000001" height="2.8000000000000114" fill="#50b870"/><rect x="272.7" y="159.5" width="78.30000000000001" height="3.9000000000000057" fill="#f8ae18"/><rect x="272.7" y="163.4" width="78.30000000000001" height="3.299999999999983" fill="#92c232"/><rect x="272.7" y="166.7" width="78.30000000000001" height="2.8000000000000114" fill="#40b0a0"/><rect x="272.7" y="169.5" width="78.30000000000001" height="2.1999999999999886" fill="#92c232"/><rect x="272.7" y="171.7" width="78.30000000000001" height="1.6000000000000227" fill="#30a8a0"/><rect x="272.7" y="173.3" width="78.30000000000001" height="3.3999999999999773" fill="#92c232"/><rect x="272.7" y="176.7" width="78.30000000000001" height="1.1000000000000227" fill="#e03030"/><rect x="272.7" y="177.8" width="78.30000000000001" height="0.5" fill="#3a2a3a"/><rect x="272.7" y="178.3" width="78.30000000000001" height="2.1999999999999886" fill="#60b8a0"/><rect x="272.7" y="180.5" width="78.30000000000001" height="6.099999999999994" fill="#92c232"/><rect x="272.7" y="186.6" width="78.30000000000001" height="2.200000000000017" fill="#30a8a0"/><rect x="272.7" y="188.8" width="78.30000000000001" height="1.6999999999999886" fill="#4a3a6a"/><rect x="272.7" y="190.5" width="78.30000000000001" height="5.5" fill="#92c232"/><rect x="272.7" y="196" width="78.30000000000001" height="5.599999999999994" fill="#f8ae18"/><rect x="272.7" y="201.6" width="78.30000000000001" height="2.200000000000017" fill="#30a8a0"/><rect x="272.7" y="203.8" width="78.30000000000001" height="6.099999999999994" fill="#f8ae18"/><rect x="272.7" y="209.9" width="78.30000000000001" height="2.1999999999999886" fill="#f06020"/><rect x="272.7" y="212.1" width="78.30000000000001" height="7.800000000000011" fill="#f8ae18"/><rect x="272.7" y="219.9" width="78.30000000000001" height="2.1999999999999886" fill="#f06020"/><rect x="272.7" y="222.1" width="78.30000000000001" height="3.3000000000000114" fill="#f8ae18"/><rect x="272.7" y="225.4" width="78.30000000000001" height="2.799999999999983" fill="#f04420"/><rect x="272.7" y="228.2" width="78.30000000000001" height="1.1000000000000227" fill="#f8ae18"/><rect x="272.7" y="229.3" width="78.30000000000001" height="2.799999999999983" fill="#f04420"/><rect x="272.7" y="232.1" width="78.30000000000001" height="11.099999999999994" fill="#f8ae18"/><rect x="272.7" y="243.2" width="78.30000000000001" height="2.700000000000017" fill="#40b090"/><rect x="272.7" y="245.9" width="78.30000000000001" height="2.299999999999983" fill="#58b040"/><rect x="272.7" y="248.2" width="78.30000000000001" height="6.0" fill="#92c232"/><rect x="272.7" y="254.2" width="78.30000000000001" height="1.200000000000017" fill="#2a2a2a"/><rect x="272.7" y="255.4" width="78.30000000000001" height="2.200000000000017" fill="#30a8a0"/><rect x="272.7" y="257.6" width="78.30000000000001" height="8.799999999999955" fill="#92c232"/><rect x="272.7" y="266.4" width="78.30000000000001" height="3.900000000000034" fill="#f8ae18"/><rect x="272.7" y="270.3" width="78.30000000000001" height="8.899999999999977" fill="#92c232"/><rect x="272.7" y="279.2" width="78.30000000000001" height="10.0" fill="#f8ae18"/><rect x="272.7" y="289.2" width="78.30000000000001" height="3.8000000000000114" fill="#92c232"/><rect x="272.7" y="293" width="78.30000000000001" height="2.3000000000000114" fill="#f8ae18"/><rect x="272.7" y="295.3" width="78.30000000000001" height="2.1999999999999886" fill="#2a2a2a"/><rect x="272.7" y="297.5" width="78.30000000000001" height="2.6999999999999886" fill="#70c0a0"/><rect x="272.7" y="300.2" width="78.30000000000001" height="3.900000000000034" fill="#92c232"/><rect x="272.7" y="304.1" width="78.30000000000001" height="1.6999999999999886" fill="#50b070"/><rect x="272.7" y="305.8" width="78.30000000000001" height="7.399999999999977" fill="#f8ae18"/><rect x="272.7" y="313.2" width="78.30000000000001" height="34.400000000000034" fill="#f04420"/><rect x="272.7" y="347.6" width="78.30000000000001" height="8.799999999999955" fill="#f8ae18"/><rect x="272.7" y="356.4" width="78.30000000000001" height="2.3000000000000114" fill="#f06020"/><rect x="272.7" y="358.7" width="78.30000000000001" height="2.6999999999999886" fill="#f8ae18"/><rect x="272.7" y="361.4" width="78.30000000000001" height="10.0" fill="#92c232"/><rect x="272.7" y="371.4" width="78.30000000000001" height="4.400000000000034" fill="#40b0a0"/><rect x="272.7" y="375.8" width="78.30000000000001" height="24.19999999999999" fill="#f8ae18"/><rect x="272.7" y="400" width="78.30000000000001" height="2.1999999999999886" fill="#f8c818"/><rect x="272.7" y="402.2" width="78.30000000000001" height="5.0" fill="#f8ae18"/><rect x="272.7" y="407.2" width="78.30000000000001" height="1.6000000000000227" fill="#c0c820"/><rect x="272.7" y="408.8" width="78.30000000000001" height="3.3999999999999773" fill="#f8ae18"/><rect x="272.7" y="412.2" width="78.30000000000001" height="2.1999999999999886" fill="#90c030"/><rect x="272.7" y="414.4" width="78.30000000000001" height="1.3000000000000114" fill="#f8ae18"/></g></g><polyline points="330.5,82.2 333.8,84.1 336.6,86.9 336.6,89.1 329.3,90.7 327.7,92.4 331.6,94.1 336.0,96.3 337.7,98.0 334.9,99.6 331.6,101.8 329.3,104.1 321.6,105.7 300.0,106.3 286.0,106.6 300.0,106.9 309.4,107.7 318.3,109.0 320.5,110.2 322.7,111.3 316.0,112.9 310.5,114.0 318.3,115.7 321.6,116.8 308.3,117.7 313.8,119.0 322.7,120.1 328.2,121.2 331.6,122.3 326.0,124.0 311.6,125.7 317.1,127.3 324.9,129.5 331.5,131.8 322.7,133.4 317.1,135.1 321.6,136.7 334.9,137.9 328.2,139.0 308.3,140.1 321.6,141.2 327.1,142.8 319.3,144.5 297.2,145.6 279.4,146.7 279.4,151.7 302.7,152.6 319.3,153.9 321.6,155.6 308.3,156.7 317.1,158.9 323.8,161.1 326.0,162.2 313.8,163.4 299.4,164.5 309.4,165.6 312.7,167.2 303.8,168.3 297.2,170.0 302.7,171.7 311.6,173.3 317.1,175.0 322.0,176.4 343.5,176.9 318.0,177.3 302.7,178.3 307.2,180.0 316.0,182.2 319.3,183.3 314.9,185.0 302.7,186.6 297.2,188.3 302.7,190.0 309.4,191.6 312.7,193.3 308.3,194.9 321.6,196.6 324.9,198.3 326.0,199.9 317.1,201.6 295.0,202.7 313.8,203.8 327.1,205.5 329.3,207.1 327.1,208.8 333.8,210.5 332.6,212.1 330.4,214.3 332.7,216.0 334.3,217.7 336.6,219.9 332.7,221.5 334.3,223.8 336.6,226.0 333.8,227.6 343.2,229.9 336.6,231.0 332.1,232.6 331.0,234.8 327.7,237.1 325.5,239.3 318.8,240.9 312.2,242.6 307.7,244.3 307.7,245.9 300.0,247.6 307.7,249.3 313.3,250.9 317.7,252.6 315.5,254.2 322.2,255.4 304.4,256.5 302.2,258.1 307.7,259.8 312.2,261.5 308.0,262.4 307.7,263.7 318.3,265.3 326.0,267.0 319.4,268.7 317.2,270.3 320.5,272.0 314.9,273.6 318.3,275.3 313.8,277.5 321.6,279.7 323.8,282.0 322.7,284.2 326.0,286.4 318.3,288.1 311.6,289.7 316.0,291.4 320.5,293.6 301.6,295.3 278.0,296.1 300.0,296.9 307.2,297.5 310.5,299.1 312.7,300.8 306.1,302.5 310.5,304.1 321.6,305.8 327.1,307.5 327.7,308.2 332.1,310.4 334.3,312.7 336.6,314.9 338.8,317.1 339.9,320.4 339.9,323.7 339.3,327.1 340.4,329.3 341.0,332.6 341.6,335.9 342.1,338.7 339.9,341.5 336.6,344.2 332.1,347.0 329.4,349.2 331.6,352.0 333.8,354.2 331.6,356.4 324.9,358.7 318.3,360.9 314.4,362.5 314.9,364.2 312.7,366.4 311.6,368.6 314.9,370.3 320.0,370.8 313.0,371.2 305.0,372.0 306.1,373.6 313.8,375.3 321.6,376.6 331.6,378.1 326.0,380.0 322.7,382.2 321.6,384.4 323.8,386.7 327.7,388.9 327.1,391.1 328.2,393.3 328.8,395.5 329.3,397.7 327.1,399.4 318.3,400.5 322.7,401.6 328.2,403.3 330.5,404.4 324.9,406.1 320.5,407.7 321.6,409.4 319.4,411.0 320.5,412.7 323.8,414.4 327.1,415.7" fill="none" stroke="#1a1414" stroke-width="1.1" stroke-linejoin="round"/><clipPath id="c_vs"><polygon points="351,54.4 413.4,54.4 415.7,56.2 416.8,58.0 416.9,59.8 418.0,61.5 417.7,63.1 419.4,64.6 419.1,66.2 418.7,67.7 418.6,69.3 419.1,70.8 418.9,72.3 418.2,73.9 418.0,75.4 419.3,76.9 419.2,78.5 420.3,80.0 419.8,81.5 417.7,83.1 416.8,84.6 418.1,86.3 419.1,88.1 420.9,89.8 421.4,91.6 421.3,93.1 421.3,94.7 420.3,96.2 420.2,97.7 418.9,99.3 419.1,100.8 420.0,102.3 420.0,103.9 420.3,105.4 419.6,106.9 419.1,108.5 419.1,110.0 420.0,111.6 420.0,113.1 420.3,114.7 420.5,116.2 419.9,117.8 419.1,119.3 420.1,120.8 420.0,122.4 420.3,123.9 420.4,125.4 420.1,127.0 419.8,128.5 419.6,130.0 420.8,131.6 420.3,133.1 420.6,134.8 421.4,136.6 422.0,138.5 422.5,140.5 422.1,142.4 422.1,144.3 421.1,146.3 421.4,148.2 421.6,149.7 421.1,151.2 420.1,152.7 420.3,154.2 419.3,155.8 419.5,157.3 419.1,158.9 417.9,160.6 418.0,162.3 419.7,164.1 420.3,165.8 419.9,167.3 419.5,168.9 419.1,170.4 419.2,171.9 419.8,173.5 419.8,175.0 420.5,176.5 419.9,178.1 420.3,179.6 419.7,181.2 419.6,182.7 419.1,184.3 419.2,185.8 420.0,187.4 420.3,188.9 420.0,190.4 419.4,192.0 419.1,193.5 418.2,195.2 416.8,197.0 417.4,198.7 418.0,200.4 419.1,202.7 415.7,205.5 414.5,207.6 414.5,209.7 416.0,211.2 415.8,212.8 416.8,214.3 416.3,215.8 415.9,217.4 415.7,218.9 417.1,220.4 417.9,222.0 418.0,223.5 418.4,225.0 418.6,226.6 419.1,228.1 418.9,229.7 420.5,231.2 420.3,232.8 419.4,234.3 419.6,235.9 419.1,237.4 419.3,238.9 419.7,240.5 420.3,242.0 421.4,244.6 420.4,246.1 419.4,247.7 419.1,249.2 418.9,250.8 419.9,252.3 420.3,253.9 420.7,255.4 420.5,257.0 420.3,258.5 419.5,260.0 419.8,261.6 419.1,263.1 418.1,264.6 418.2,266.2 418.0,267.7 418.1,269.2 417.8,270.8 416.8,272.3 416.4,273.9 416.6,275.4 415.7,277.0 415.3,278.5 414.9,280.1 414.5,281.6 415.0,283.1 416.0,284.7 415.7,286.2 415.6,287.7 414.9,289.3 414.5,290.8 416.8,292.3 418.6,293.9 420.3,295.4 418.0,297.7 416.0,300.0 413.0,302.0 406.4,304.7 400.0,306.5 397.0,307.8 395.5,308.6 393.3,310.1 391.6,311.7 390.7,313.3 389.4,314.8 387.7,316.4 383.0,318.8 379.0,321.1 378.4,322.7 378.1,324.2 376.7,325.8 375.2,327.4 375.1,329.0 377.0,331.0 379.0,332.9 376.0,334.5 372.0,336.8 369.7,338.4 367.3,340.0 366.7,341.6 365.7,343.1 363.9,344.6 362.6,346.2 364.5,347.8 367.3,349.4 363.0,350.8 359.4,352.5 359.3,354.1 358.6,355.7 359.7,357.2 361.0,358.8 362.0,360.4 370.0,361.2 408.8,362.0 408.7,364.6 409.5,366.4 411.0,368.1 411.6,369.9 413.4,371.6 418.0,373.9 420.4,375.6 421.4,377.3 421.2,379.1 421.4,380.8 420.1,382.3 419.5,383.9 419.1,385.4 417.6,386.9 417.3,388.5 415.7,390.0 414.1,391.8 413.4,393.5 413.6,395.2 414.5,397.0 412.2,399.3 408.7,401.0 406.4,402.7 412.2,405.1 413.3,406.9 414.5,408.6 411.0,410.8 400.7,413.1 390.0,414.6 384.5,415.0 383.3,417.8 383.5,419.5 384.5,421.2 384.5,422.6 351,422.6"/></clipPath><g clip-path="url(#c_vs)"><g shape-rendering="crispEdges"><rect x="351" y="54.4" width="78.60000000000002" height="253.4" fill="#5a2380"/><rect x="351" y="307.8" width="78.60000000000002" height="2.3000000000000114" fill="#7a5aa0"/><rect x="351" y="310.1" width="78.60000000000002" height="2.8999999999999773" fill="#9480bc"/><rect x="351" y="313" width="78.60000000000002" height="3.3999999999999773" fill="#a08ec4"/><rect x="351" y="316.4" width="78.60000000000002" height="2.400000000000034" fill="#b8a8d4"/><rect x="351" y="318.8" width="78.60000000000002" height="2.3000000000000114" fill="#ad9ccd"/><rect x="351" y="321.1" width="78.60000000000002" height="2.8999999999999773" fill="#d0c4e4"/><rect x="351" y="324" width="78.60000000000002" height="3.3999999999999773" fill="#c8bce0"/><rect x="351" y="327.4" width="78.60000000000002" height="2.400000000000034" fill="#bcacda"/><rect x="351" y="329.8" width="78.60000000000002" height="3.1999999999999886" fill="#d8d0ea"/><rect x="351" y="333" width="78.60000000000002" height="3.8000000000000114" fill="#e0d8ee"/><rect x="351" y="336.8" width="78.60000000000002" height="3.8999999999999773" fill="#f2eaf2"/><rect x="351" y="340.7" width="78.60000000000002" height="2.400000000000034" fill="#f8c4c4"/><rect x="351" y="343.1" width="78.60000000000002" height="4.699999999999989" fill="#f8e6ea"/><rect x="351" y="347.8" width="78.60000000000002" height="2.3999999999999773" fill="#f6b0b0"/><rect x="351" y="350.2" width="78.60000000000002" height="2.3000000000000114" fill="#f8d0d0"/><rect x="351" y="352.5" width="78.60000000000002" height="7.899999999999977" fill="#f05a5a"/><rect x="351" y="360.4" width="78.60000000000002" height="53.900000000000034" fill="#5a2380"/><rect x="351" y="414.3" width="78.60000000000002" height="8.300000000000011" fill="#a898d0"/></g><rect x="351" y="307.8" width="50" height="52.6" fill="url(#vsfade)"/></g><polyline points="413.4,54.4 415.7,56.2 416.8,58.0 416.9,59.8 418.0,61.5 417.7,63.1 419.4,64.6 419.1,66.2 418.7,67.7 418.6,69.3 419.1,70.8 418.9,72.3 418.2,73.9 418.0,75.4 419.3,76.9 419.2,78.5 420.3,80.0 419.8,81.5 417.7,83.1 416.8,84.6 418.1,86.3 419.1,88.1 420.9,89.8 421.4,91.6 421.3,93.1 421.3,94.7 420.3,96.2 420.2,97.7 418.9,99.3 419.1,100.8 420.0,102.3 420.0,103.9 420.3,105.4 419.6,106.9 419.1,108.5 419.1,110.0 420.0,111.6 420.0,113.1 420.3,114.7 420.5,116.2 419.9,117.8 419.1,119.3 420.1,120.8 420.0,122.4 420.3,123.9 420.4,125.4 420.1,127.0 419.8,128.5 419.6,130.0 420.8,131.6 420.3,133.1 420.6,134.8 421.4,136.6 422.0,138.5 422.5,140.5 422.1,142.4 422.1,144.3 421.1,146.3 421.4,148.2 421.6,149.7 421.1,151.2 420.1,152.7 420.3,154.2 419.3,155.8 419.5,157.3 419.1,158.9 417.9,160.6 418.0,162.3 419.7,164.1 420.3,165.8 419.9,167.3 419.5,168.9 419.1,170.4 419.2,171.9 419.8,173.5 419.8,175.0 420.5,176.5 419.9,178.1 420.3,179.6 419.7,181.2 419.6,182.7 419.1,184.3 419.2,185.8 420.0,187.4 420.3,188.9 420.0,190.4 419.4,192.0 419.1,193.5 418.2,195.2 416.8,197.0 417.4,198.7 418.0,200.4 419.1,202.7 415.7,205.5 414.5,207.6 414.5,209.7 416.0,211.2 415.8,212.8 416.8,214.3 416.3,215.8 415.9,217.4 415.7,218.9 417.1,220.4 417.9,222.0 418.0,223.5 418.4,225.0 418.6,226.6 419.1,228.1 418.9,229.7 420.5,231.2 420.3,232.8 419.4,234.3 419.6,235.9 419.1,237.4 419.3,238.9 419.7,240.5 420.3,242.0 421.4,244.6 420.4,246.1 419.4,247.7 419.1,249.2 418.9,250.8 419.9,252.3 420.3,253.9 420.7,255.4 420.5,257.0 420.3,258.5 419.5,260.0 419.8,261.6 419.1,263.1 418.1,264.6 418.2,266.2 418.0,267.7 418.1,269.2 417.8,270.8 416.8,272.3 416.4,273.9 416.6,275.4 415.7,277.0 415.3,278.5 414.9,280.1 414.5,281.6 415.0,283.1 416.0,284.7 415.7,286.2 415.6,287.7 414.9,289.3 414.5,290.8 416.8,292.3 418.6,293.9 420.3,295.4 418.0,297.7 416.0,300.0 413.0,302.0 406.4,304.7 400.0,306.5 397.0,307.8 395.5,308.6 393.3,310.1 391.6,311.7 390.7,313.3 389.4,314.8 387.7,316.4 383.0,318.8 379.0,321.1 378.4,322.7 378.1,324.2 376.7,325.8 375.2,327.4 375.1,329.0 377.0,331.0 379.0,332.9 376.0,334.5 372.0,336.8 369.7,338.4 367.3,340.0 366.7,341.6 365.7,343.1 363.9,344.6 362.6,346.2 364.5,347.8 367.3,349.4 363.0,350.8 359.4,352.5 359.3,354.1 358.6,355.7 359.7,357.2 361.0,358.8 362.0,360.4 370.0,361.2 408.8,362.0 408.7,364.6 409.5,366.4 411.0,368.1 411.6,369.9 413.4,371.6 418.0,373.9 420.4,375.6 421.4,377.3 421.2,379.1 421.4,380.8 420.1,382.3 419.5,383.9 419.1,385.4 417.6,386.9 417.3,388.5 415.7,390.0 414.1,391.8 413.4,393.5 413.6,395.2 414.5,397.0 412.2,399.3 408.7,401.0 406.4,402.7 412.2,405.1 413.3,406.9 414.5,408.6 411.0,410.8 400.7,413.1 390.0,414.6 384.5,415.0 383.3,417.8 383.5,419.5 384.5,421.2 384.5,422.6" fill="none" stroke="#1a1414" stroke-width="1.1" stroke-linejoin="round"/><g shape-rendering="crispEdges"><rect x="429.6" y="74.6" width="31.099999999999966" height="1.8000000000000114" fill="#3a1850"/><rect x="429.6" y="76.4" width="31.099999999999966" height="16.39999999999999" fill="#46c6c8"/><rect x="429.6" y="92.8" width="31.099999999999966" height="2.700000000000003" fill="#3a1850"/><rect x="429.6" y="95.5" width="31.099999999999966" height="6.400000000000006" fill="#46c6c8"/><rect x="429.6" y="101.9" width="31.099999999999966" height="8.099999999999994" fill="#4a2080"/><rect x="429.6" y="110" width="31.099999999999966" height="7" fill="#46c6c8"/><rect x="429.6" y="117" width="31.099999999999966" height="4.599999999999994" fill="#4a2080"/><rect x="429.6" y="121.6" width="31.099999999999966" height="4.6000000000000085" fill="#46c6c8"/><rect x="429.6" y="126.2" width="31.099999999999966" height="2.299999999999997" fill="#4a2080"/><rect x="429.6" y="128.5" width="31.099999999999966" height="5.800000000000011" fill="#46c6c8"/><rect x="429.6" y="134.3" width="31.099999999999966" height="24.399999999999977" fill="#4a2080"/><rect x="429.6" y="158.7" width="31.099999999999966" height="1.1000000000000227" fill="#231a30"/><rect x="429.6" y="159.8" width="31.099999999999966" height="5.199999999999989" fill="#46c6c8"/><rect x="429.6" y="165" width="31.099999999999966" height="2.3000000000000114" fill="#2a1438"/><rect x="429.6" y="167.3" width="31.099999999999966" height="4.099999999999994" fill="#46c6c8"/><rect x="429.6" y="171.4" width="31.099999999999966" height="2.299999999999983" fill="#3a1850"/><rect x="429.6" y="173.7" width="31.099999999999966" height="3.4000000000000057" fill="#46c6c8"/><rect x="429.6" y="177.1" width="31.099999999999966" height="4.700000000000017" fill="#0e0a10"/><rect x="429.6" y="181.8" width="31.099999999999966" height="5.199999999999989" fill="#46c6c8"/><rect x="429.6" y="187" width="31.099999999999966" height="2.8000000000000114" fill="#3a5a60"/><rect x="429.6" y="189.8" width="31.099999999999966" height="1.1999999999999886" fill="#231a30"/><rect x="429.6" y="191" width="31.099999999999966" height="4.599999999999994" fill="#46c6c8"/><rect x="429.6" y="195.6" width="31.099999999999966" height="1.200000000000017" fill="#231a30"/><rect x="429.6" y="196.8" width="31.099999999999966" height="0.39999999999997726" fill="#231a30"/><rect x="429.6" y="197.2" width="31.099999999999966" height="4.0" fill="#9ac81e"/><rect x="429.6" y="201.2" width="31.099999999999966" height="0.6000000000000227" fill="#231a30"/><rect x="429.6" y="201.8" width="31.099999999999966" height="4.0" fill="#46c6c8"/><rect x="429.6" y="205.8" width="31.099999999999966" height="2.299999999999983" fill="#0e0a10"/><rect x="429.6" y="208.1" width="31.099999999999966" height="2.3000000000000114" fill="#9ac81e"/><rect x="429.6" y="210.4" width="31.099999999999966" height="1.1999999999999886" fill="#231a30"/><rect x="429.6" y="211.6" width="31.099999999999966" height="16.200000000000017" fill="#9ac81e"/><rect x="429.6" y="227.8" width="31.099999999999966" height="1.0999999999999943" fill="#231a30"/><rect x="429.6" y="228.9" width="31.099999999999966" height="4.599999999999994" fill="#46c6c8"/><rect x="429.6" y="233.5" width="31.099999999999966" height="1.1999999999999886" fill="#231a30"/><rect x="429.6" y="234.7" width="31.099999999999966" height="6.300000000000011" fill="#9ac81e"/><rect x="429.6" y="241" width="31.099999999999966" height="1.1999999999999886" fill="#231a30"/><rect x="429.6" y="242.2" width="31.099999999999966" height="8.600000000000023" fill="#46c6c8"/><rect x="429.6" y="250.8" width="31.099999999999966" height="1.1999999999999886" fill="#231a30"/><rect x="429.6" y="252" width="31.099999999999966" height="4.600000000000023" fill="#9ac81e"/><rect x="429.6" y="256.6" width="31.099999999999966" height="1.099999999999966" fill="#231a30"/><rect x="429.6" y="257.7" width="31.099999999999966" height="8.300000000000011" fill="#46c6c8"/><rect x="429.6" y="266" width="31.099999999999966" height="1.5" fill="#231a30"/><rect x="429.6" y="267.5" width="31.099999999999966" height="20.600000000000023" fill="#9ac81e"/><rect x="429.6" y="288.1" width="31.099999999999966" height="1.099999999999966" fill="#231a30"/><rect x="429.6" y="289.2" width="31.099999999999966" height="2.3000000000000114" fill="#46c6c8"/><rect x="429.6" y="291.5" width="31.099999999999966" height="1.1999999999999886" fill="#231a30"/><rect x="429.6" y="292.7" width="31.099999999999966" height="2.3000000000000114" fill="#9ac81e"/><rect x="429.6" y="295" width="31.099999999999966" height="1.1999999999999886" fill="#231a30"/><rect x="429.6" y="296.2" width="31.099999999999966" height="3.400000000000034" fill="#46c6c8"/><rect x="429.6" y="299.6" width="31.099999999999966" height="1.1999999999999886" fill="#231a30"/><rect x="429.6" y="300.8" width="31.099999999999966" height="4.599999999999966" fill="#9ac81e"/><rect x="429.6" y="305.4" width="31.099999999999966" height="1.8000000000000114" fill="#1a1010"/><rect x="429.6" y="307.2" width="31.099999999999966" height="2.8000000000000114" fill="#7a3a20"/><rect x="429.6" y="310" width="31.099999999999966" height="1.1999999999999886" fill="#231a30"/><rect x="429.6" y="311.2" width="31.099999999999966" height="1.1000000000000227" fill="#7a3a20"/><rect x="429.6" y="312.3" width="31.099999999999966" height="20.399999999999977" fill="#f04a28"/><rect x="429.6" y="332.7" width="31.099999999999966" height="2.6999999999999886" fill="#3a2020"/><rect x="429.6" y="335.4" width="31.099999999999966" height="11.600000000000023" fill="#f04a28"/><rect x="429.6" y="347" width="31.099999999999966" height="1.6999999999999886" fill="#231a30"/><rect x="429.6" y="348.7" width="31.099999999999966" height="4.800000000000011" fill="#f8a018"/><rect x="429.6" y="353.5" width="31.099999999999966" height="1.5" fill="#231a30"/><rect x="429.6" y="355" width="31.099999999999966" height="5.800000000000011" fill="#f04a28"/><rect x="429.6" y="360.8" width="31.099999999999966" height="1.6999999999999886" fill="#7a3a20"/><rect x="429.6" y="362.5" width="31.099999999999966" height="8.699999999999989" fill="#9ac81e"/><rect x="429.6" y="371.2" width="31.099999999999966" height="1.0" fill="#231a30"/><rect x="429.6" y="372.2" width="31.099999999999966" height="7.800000000000011" fill="#46c6c8"/><rect x="429.6" y="380" width="31.099999999999966" height="1.1999999999999886" fill="#231a30"/><rect x="429.6" y="381.2" width="31.099999999999966" height="4.5" fill="#4a2080"/><rect x="429.6" y="385.7" width="31.099999999999966" height="1.1000000000000227" fill="#231a30"/><rect x="429.6" y="386.8" width="31.099999999999966" height="3.099999999999966" fill="#46c6c8"/><rect x="429.6" y="389.9" width="31.099999999999966" height="1.1000000000000227" fill="#231a30"/><rect x="429.6" y="391" width="31.099999999999966" height="5.100000000000023" fill="#9ac81e"/><rect x="429.6" y="396.1" width="31.099999999999966" height="1.099999999999966" fill="#231a30"/><rect x="429.6" y="397.2" width="31.099999999999966" height="2.1000000000000227" fill="#f8a018"/><rect x="429.6" y="399.3" width="31.099999999999966" height="1.5" fill="#231a30"/><rect x="429.6" y="400.8" width="31.099999999999966" height="1.599999999999966" fill="#7a9a20"/><rect x="429.6" y="402.4" width="31.099999999999966" height="1.0" fill="#231a30"/><rect x="429.6" y="403.4" width="31.099999999999966" height="3.1000000000000227" fill="#f8a018"/><rect x="429.6" y="406.5" width="31.099999999999966" height="1.1000000000000227" fill="#231a30"/><rect x="429.6" y="407.6" width="31.099999999999966" height="6.199999999999989" fill="#9ac81e"/><rect x="429.6" y="413.8" width="31.099999999999966" height="1.0" fill="#231a30"/><rect x="429.6" y="414.8" width="31.099999999999966" height="2.099999999999966" fill="#f8a018"/></g><rect x="429.6" y="101.40" width="31.099999999999966" height="1" fill="#2a1a30"/><rect x="429.6" y="109.50" width="31.099999999999966" height="1" fill="#2a1a30"/><rect x="429.6" y="116.50" width="31.099999999999966" height="1" fill="#2a1a30"/><rect x="429.6" y="121.10" width="31.099999999999966" height="1" fill="#2a1a30"/><rect x="429.6" y="125.70" width="31.099999999999966" height="1" fill="#2a1a30"/><rect x="429.6" y="128.00" width="31.099999999999966" height="1" fill="#2a1a30"/><rect x="429.6" y="133.80" width="31.099999999999966" height="1" fill="#2a1a30"/><rect x="429.6" y="186.50" width="31.099999999999966" height="1" fill="#2a1a30"/><rect x="429.6" y="311.80" width="31.099999999999966" height="1" fill="#2a1a30"/><rect x="429.6" y="360.30" width="31.099999999999966" height="1" fill="#2a1a30"/><rect x="429.6" y="362.00" width="31.099999999999966" height="1" fill="#2a1a30"/><text x="445.2" y="150.3" font-size="8.3" text-anchor="middle" fill="#e8e0f4">5 Brine</text><text x="445.2" y="325.3" font-size="8.3" text-anchor="middle" fill="#ffffff">1 HC</text><text x="445.2" y="345.2" font-size="8.3" text-anchor="middle" fill="#ffffff">1 HC</text><polygon points="495.1,311.1 497.0,313.9 503.4,317.6 509.9,321.3 509.0,324.0 514.5,327.7 512.7,330.5 515.5,333.3 516.4,337.0 519.1,339.7 524.7,341.6 522.8,344.4 526.5,347.1 523.8,349.0 530.2,352.7 531.2,355.5 528.4,358.2 515.5,361.0 497.0,361.9 484.0,362.9 480.3,366.6 474.8,363.8 471.1,359.1 469.2,351.8 468.3,344.4 469.2,337.0 470.2,329.6 469.2,322.2 470.2,317.6 474.8,315.7 484.0,312.9" fill="url(#hatch)" stroke="#2a2420" stroke-width="0.9"/><polyline points="476.2,54.6 475.4,56.0 475.0,57.4 475.2,58.8 473.9,60.2 473.5,61.6 473.2,63.0 472.0,64.4 472.2,65.8 472.1,67.2 472.0,68.6 470.8,70.0 471.1,71.4 470.8,72.8 471.8,74.2 471.3,75.6 469.7,77.0 471.4,78.4 471.7,79.8 471.5,81.2 471.6,82.6 470.5,84.0 469.9,85.4 470.5,86.8 469.3,88.2 469.2,89.6 468.9,91.0 468.6,92.4 469.7,93.8 470.0,95.2 470.9,96.6 470.1,98.0 470.1,99.4 469.6,100.8 469.6,102.2 469.2,103.6 469.1,105.0 470.7,106.4 470.9,107.8 470.9,109.2 470.7,110.6 469.7,112.0 469.3,113.4 469.2,114.8 468.6,116.2 469.8,117.6 469.4,119.0 470.4,120.4 469.8,121.8 471.1,123.2 470.9,124.6 469.1,126.0 469.3,127.4 470.3,128.8 469.3,130.2 470.1,131.6 469.0,133.0 468.4,134.4 469.4,135.8 469.7,137.2 468.7,138.6 468.1,140.0 468.3,141.4 469.2,142.8 468.6,144.2 467.5,145.6 468.0,147.0 467.9,148.4 468.1,149.8 469.6,151.2 468.8,152.6 470.0,154.0 470.3,155.4 470.3,156.8 471.7,158.2 471.0,159.6 472.3,161.0 471.7,162.4 472.4,163.8 471.3,165.2 470.7,166.6 471.3,168.0 470.7,169.4 469.6,170.8 470.4,172.2 468.9,173.6 469.0,175.0 470.3,176.4 470.4,177.8 469.9,179.2 471.9,180.6 471.0,182.0 471.3,183.4 472.5,184.8 471.9,186.2 472.1,187.6 471.9,189.0 472.2,190.4 473.4,191.8 473.0,193.2 473.9,194.6 473.6,196.0 473.4,197.4 473.9,198.8 472.7,200.2 472.5,201.6 472.7,203.0 471.1,204.4 471.3,205.8 473.4,207.2 473.9,208.6 473.4,210.0 472.9,211.4 473.5,212.8 473.5,214.2 471.5,215.6 472.2,217.0 471.3,218.4 470.4,219.8 469.7,221.2 468.7,222.6 468.5,224.0 470.5,225.4 469.6,226.8 470.7,228.2 469.6,229.6 470.2,231.0 469.5,232.4 469.6,233.8 470.4,235.2 472.5,236.6 472.0,238.0 472.6,239.4 473.4,240.8 474.2,242.2 474.0,243.6 472.8,245.0 472.6,246.4 470.0,247.8 468.3,249.2 469.1,250.6 469.8,252.0 469.5,253.4 470.0,254.8 470.7,256.2 471.4,257.6 471.0,259.0 471.7,260.4 473.1,261.8 473.6,263.2 473.5,264.6 474.0,266.0 474.3,267.4 474.0,268.8 474.2,270.2 474.1,271.6 475.7,273.0 475.4,274.4 475.8,275.8 474.2,277.2 475.6,278.6 475.6,280.0 476.3,281.4 475.8,282.8 476.6,284.2 474.4,285.6 475.3,287.0 476.0,288.4 476.7,289.8 476.0,291.2 473.8,292.6 472.8,294.0 472.2,295.4 472.7,296.8 474.6,298.2 475.9,299.6 476.7,301.0 477.6,302.4 480.1,303.8 483.0,305.2 486.6,306.6 490.4,308.0 493.4,309.4 495.1,311.1" fill="none" stroke="#1a1618" stroke-width="1.1"/><polyline points="530.0,54.6 528.0,55.5 526.0,56.5 522.0,58.0 518.5,59.5 520.0,60.4 524.0,61.0 530.3,61.6 530.6,63.5 530.5,64.9 530.6,66.3 530.6,67.7 529.6,69.1 529.3,70.5 529.8,71.9 529.5,73.3 530.4,74.7 530.2,76.1 530.1,77.5 530.0,78.9 530.2,80.3 529.3,81.7 529.8,83.1 529.4,84.5 530.5,85.9 529.1,87.3 530.2,88.7 529.0,90.1 529.9,91.5 529.3,92.9 529.3,94.3 530.0,95.7 528.6,97.1 528.7,98.5 530.0,99.9 529.3,101.3 528.6,102.7 530.0,104.1 530.0,105.5 528.6,106.9 529.1,108.3 528.6,109.7 528.9,111.1 529.4,112.5 528.7,113.9 529.5,115.3 528.5,116.7 528.7,118.1 529.7,119.5 529.1,120.9 529.3,122.3 529.6,123.7 529.5,125.1 529.5,126.5 529.0,127.9 530.2,129.3 530.6,130.7 530.6,132.1 530.0,133.5 529.4,134.9 529.3,136.3 529.8,137.7 529.7,139.1 528.7,140.5 528.8,141.9 528.9,143.3 529.1,144.7 529.6,146.1 529.0,147.5 528.2,148.9 529.4,150.3 528.8,151.7 528.9,153.1 528.3,154.5 528.6,155.9 528.6,157.3 529.2,158.7 528.2,160.1 529.0,161.5 528.5,162.9 529.3,164.3 528.4,165.7 528.8,167.1 528.9,168.5 529.3,169.9 528.3,171.3 528.9,172.7 528.5,174.1 528.5,175.5 528.8,176.9 529.5,178.3 528.7,179.7 529.5,181.1 528.3,182.5 529.6,183.9 528.7,185.3 528.5,186.7 529.5,188.1 529.8,189.5 528.4,190.9 528.8,192.3 529.7,193.7 529.0,195.1 528.9,196.5 528.5,197.9 528.6,199.3 529.6,200.7 530.2,202.1 530.2,203.5 529.5,204.9 528.8,206.3 529.3,207.7 530.1,209.1 530.3,210.5 530.0,211.9 529.4,213.3 529.8,214.7 529.3,216.1 529.4,217.5 528.8,218.9 529.9,220.3 529.8,221.7 528.7,223.1 528.9,224.5 529.8,225.9 528.8,227.3 529.8,228.7 529.0,230.1 529.3,231.5 529.2,232.9 528.4,234.3 528.4,235.7 528.3,237.1 529.1,238.5 529.1,239.9 528.3,241.3 529.6,242.7 528.9,244.1 528.7,245.5 529.1,246.9 530.1,248.3 529.6,249.7 529.8,251.1 530.4,252.5 530.6,253.9 530.2,255.3 529.5,256.7 529.6,258.1 530.0,259.5 529.6,260.9 528.8,262.3 527.9,263.7 527.5,265.1 527.6,266.5 526.9,267.9 525.5,269.3 526.2,270.7 526.0,272.1 526.0,273.5 526.3,274.9 526.6,276.3 526.2,277.7 526.8,279.1 526.8,280.5 527.1,281.9 528.2,283.3 528.6,284.7 530.0,286.1 529.9,287.5 529.9,288.9 529.6,290.3 528.5,291.7 528.8,293.1 528.0,294.5 526.5,295.9 525.2,297.3 524.8,298.7 524.2,300.1 523.6,301.5 519.2,302.9 515.2,304.3 511.4,305.7 505.8,307.1 499.5,308.5 495.6,309.9 495.7,311.1" fill="none" stroke="#1a1618" stroke-width="1.1"/><polyline points="480.3,366.6 481.7,366.4 483.0,367.2 484.4,367.4 485.8,367.8 487.3,366.9 488.7,367.1 490.1,367.1 491.5,367.4 492.8,368.4 494.3,367.6 495.6,368.4 497.0,368.5 498.5,368.2 499.9,368.4 501.3,368.8 502.6,369.6 504.1,369.4 505.6,368.6 507.0,369.1 508.4,369.0 509.8,370.3 511.2,370.4 512.6,370.5 514.0,370.7 515.5,370.3 516.9,371.0 518.3,371.5 519.7,371.6 521.3,371.0 522.6,372.2 524.2,371.9 525.6,372.2 527.5,374.0 526.4,375.2 526.0,376.8 525.5,378.3 524.7,379.6 524.7,381.1 524.5,382.6 524.5,384.1 524.6,385.6 523.8,387.0 523.6,388.5 523.8,390.0 523.8,391.5 524.5,392.8 525.0,394.2 525.0,395.7 525.6,397.1 527.4,398.1 528.4,399.9 529.0,401.9 530.2,403.6 530.0,405.4 530.1,407.4 529.3,409.1 530.4,410.5 530.5,412.2 531.2,413.8 531.3,415.3 530.6,416.6 530.1,417.9 530.1,419.4 530.2,420.8 529.3,422.1" fill="none" stroke="#1a1618" stroke-width="1.1"/><polyline points="478.5,368.5 477.3,369.8 475.4,369.7 474.0,370.5 472.3,370.8 471.1,372.2 470.5,373.9 469.6,375.5 468.3,376.8 468.1,378.5 468.4,380.1 469.2,381.7 468.7,383.5 469.2,385.1 470.3,386.1 470.7,387.7 472.5,388.2 472.9,389.7 474.2,390.6 474.2,392.4 475.9,393.1 476.6,394.4 477.3,396.2 476.8,398.2 477.6,399.9 478.8,401.0 480.3,401.8 482.0,402.2 483.1,403.6 481.5,404.0 479.8,404.3 478.4,405.5 476.6,405.5 475.5,407.2 474.8,409.1 476.4,409.3 477.7,410.3 479.2,410.6 480.3,411.9 481.8,411.6 483.1,413.1 484.7,412.4 486.0,413.5 487.5,412.9 488.9,413.3 490.3,414.0 491.8,413.9 493.3,413.8 494.9,413.4 496.2,414.5 497.6,414.8 499.2,414.3 500.6,414.4 501.9,415.9 503.4,415.6 503.9,417.5 504.4,419.3 502.5,421.2 504.4,423.0" fill="none" stroke="#1a1618" stroke-width="1.1"/><path d="M517.2 60 h4.2 M526.5 56.6 l3.6 -1.8" stroke="#111" stroke-width="2.2" stroke-linecap="round" fill="none"/><text x="527" y="72" font-size="5.5" fill="none" stroke="#f06030" stroke-width="0.5">Gas?</text><line x1="37" y1="54.2" x2="37" y2="427" stroke="#1c1818" stroke-width="1.7"/><line x1="115.5" y1="54.2" x2="115.5" y2="427" stroke="#1c1818" stroke-width="1.7"/><line x1="194" y1="54.2" x2="194" y2="427" stroke="#1c1818" stroke-width="1.7"/><line x1="272.7" y1="54.2" x2="272.7" y2="427" stroke="#1c1818" stroke-width="1.7"/><line x1="351" y1="54.2" x2="351" y2="427" stroke="#1c1818" stroke-width="1.7"/><line x1="429.6" y1="54.2" x2="429.6" y2="427" stroke="#1c1818" stroke-width="1.7"/><line x1="460.7" y1="54.2" x2="460.7" y2="427" stroke="#1c1818" stroke-width="1.7"/><line x1="5.5" y1="3" x2="5.5" y2="427" stroke="#4a4444" stroke-width="1.4"/><line x1="539" y1="3" x2="539" y2="427" stroke="#5a5252" stroke-width="1.6"/><rect x="33.8" y="54.2" width="2.6" height="372.8" fill="#ffffff"/><rect x="33.9" y="55.0" width="2.9" height="1.4" fill="#1a1616"/><rect x="33.9" y="58.3" width="2.9" height="1.4" fill="#1a1616"/><rect x="33.9" y="61.6" width="2.9" height="1.4" fill="#1a1616"/><rect x="33.9" y="64.9" width="2.9" height="1.4" fill="#1a1616"/><rect x="32.2" y="68.2" width="4.6" height="1.4" fill="#1a1616"/><rect x="33.9" y="71.5" width="2.9" height="1.4" fill="#1a1616"/><rect x="33.9" y="74.9" width="2.9" height="1.4" fill="#1a1616"/><rect x="33.9" y="78.2" width="2.9" height="1.4" fill="#1a1616"/><rect x="33.9" y="81.5" width="2.9" height="1.4" fill="#1a1616"/><rect x="33.9" y="84.8" width="2.9" height="1.4" fill="#1a1616"/><rect x="33.9" y="88.1" width="2.9" height="1.4" fill="#1a1616"/><rect x="33.9" y="91.4" width="2.9" height="1.4" fill="#1a1616"/><rect x="33.9" y="94.8" width="2.9" height="1.4" fill="#1a1616"/><rect x="33.9" y="98.1" width="2.9" height="1.4" fill="#1a1616"/><rect x="32.2" y="101.4" width="4.6" height="1.4" fill="#1a1616"/><text x="10.6" y="105.3" font-size="8.2" fill="#2a2630" stroke="#2a2630" stroke-width="0.12" textLength="18.3" lengthAdjust="spacing">3590</text><rect x="33.9" y="104.7" width="2.9" height="1.4" fill="#1a1616"/><rect x="33.9" y="108.0" width="2.9" height="1.4" fill="#1a1616"/><rect x="33.9" y="111.4" width="2.9" height="1.4" fill="#1a1616"/><rect x="33.9" y="114.7" width="2.9" height="1.4" fill="#1a1616"/><rect x="33.9" y="118.0" width="2.9" height="1.4" fill="#1a1616"/><rect x="33.9" y="121.3" width="2.9" height="1.4" fill="#1a1616"/><rect x="33.9" y="124.6" width="2.9" height="1.4" fill="#1a1616"/><rect x="33.9" y="127.9" width="2.9" height="1.4" fill="#1a1616"/><rect x="33.9" y="131.3" width="2.9" height="1.4" fill="#1a1616"/><rect x="32.2" y="134.6" width="4.6" height="1.4" fill="#1a1616"/><text x="10.6" y="138.5" font-size="8.2" fill="#2a2630" stroke="#2a2630" stroke-width="0.12" textLength="18.3" lengthAdjust="spacing">3600</text><rect x="33.9" y="137.9" width="2.9" height="1.4" fill="#1a1616"/><rect x="33.9" y="141.2" width="2.9" height="1.4" fill="#1a1616"/><rect x="33.9" y="144.5" width="2.9" height="1.4" fill="#1a1616"/><rect x="33.9" y="147.8" width="2.9" height="1.4" fill="#1a1616"/><rect x="33.9" y="151.2" width="2.9" height="1.4" fill="#1a1616"/><rect x="33.9" y="154.5" width="2.9" height="1.4" fill="#1a1616"/><rect x="33.9" y="157.8" width="2.9" height="1.4" fill="#1a1616"/><rect x="33.9" y="161.1" width="2.9" height="1.4" fill="#1a1616"/><rect x="33.9" y="164.4" width="2.9" height="1.4" fill="#1a1616"/><rect x="32.2" y="167.7" width="4.6" height="1.4" fill="#1a1616"/><text x="10.6" y="171.6" font-size="8.2" fill="#2a2630" stroke="#2a2630" stroke-width="0.12" textLength="18.3" lengthAdjust="spacing">3610</text><rect x="33.9" y="171.1" width="2.9" height="1.4" fill="#1a1616"/><rect x="33.9" y="174.4" width="2.9" height="1.4" fill="#1a1616"/><rect x="33.9" y="177.7" width="2.9" height="1.4" fill="#1a1616"/><rect x="33.9" y="181.0" width="2.9" height="1.4" fill="#1a1616"/><rect x="33.9" y="184.3" width="2.9" height="1.4" fill="#1a1616"/><rect x="33.9" y="187.6" width="2.9" height="1.4" fill="#1a1616"/><rect x="33.9" y="191.0" width="2.9" height="1.4" fill="#1a1616"/><rect x="33.9" y="194.3" width="2.9" height="1.4" fill="#1a1616"/><rect x="33.9" y="197.6" width="2.9" height="1.4" fill="#1a1616"/><rect x="32.2" y="200.9" width="4.6" height="1.4" fill="#1a1616"/><text x="10.6" y="204.8" font-size="8.2" fill="#2a2630" stroke="#2a2630" stroke-width="0.12" textLength="18.3" lengthAdjust="spacing">3620</text><rect x="33.9" y="204.2" width="2.9" height="1.4" fill="#1a1616"/><rect x="33.9" y="207.5" width="2.9" height="1.4" fill="#1a1616"/><rect x="33.9" y="210.9" width="2.9" height="1.4" fill="#1a1616"/><rect x="33.9" y="214.2" width="2.9" height="1.4" fill="#1a1616"/><rect x="33.9" y="217.5" width="2.9" height="1.4" fill="#1a1616"/><rect x="33.9" y="220.8" width="2.9" height="1.4" fill="#1a1616"/><rect x="33.9" y="224.1" width="2.9" height="1.4" fill="#1a1616"/><rect x="33.9" y="227.4" width="2.9" height="1.4" fill="#1a1616"/><rect x="33.9" y="230.8" width="2.9" height="1.4" fill="#1a1616"/><rect x="32.2" y="234.1" width="4.6" height="1.4" fill="#1a1616"/><text x="10.6" y="238.0" font-size="8.2" fill="#2a2630" stroke="#2a2630" stroke-width="0.12" textLength="18.3" lengthAdjust="spacing">3630</text><rect x="33.9" y="237.4" width="2.9" height="1.4" fill="#1a1616"/><rect x="33.9" y="240.7" width="2.9" height="1.4" fill="#1a1616"/><rect x="33.9" y="244.0" width="2.9" height="1.4" fill="#1a1616"/><rect x="33.9" y="247.3" width="2.9" height="1.4" fill="#1a1616"/><rect x="33.9" y="250.7" width="2.9" height="1.4" fill="#1a1616"/><rect x="33.9" y="254.0" width="2.9" height="1.4" fill="#1a1616"/><rect x="33.9" y="257.3" width="2.9" height="1.4" fill="#1a1616"/><rect x="33.9" y="260.6" width="2.9" height="1.4" fill="#1a1616"/><rect x="33.9" y="263.9" width="2.9" height="1.4" fill="#1a1616"/><rect x="32.2" y="267.3" width="4.6" height="1.4" fill="#1a1616"/><text x="10.6" y="271.2" font-size="8.2" fill="#2a2630" stroke="#2a2630" stroke-width="0.12" textLength="18.3" lengthAdjust="spacing">3640</text><rect x="33.9" y="270.6" width="2.9" height="1.4" fill="#1a1616"/><rect x="33.9" y="273.9" width="2.9" height="1.4" fill="#1a1616"/><rect x="33.9" y="277.2" width="2.9" height="1.4" fill="#1a1616"/><rect x="33.9" y="280.5" width="2.9" height="1.4" fill="#1a1616"/><rect x="33.9" y="283.8" width="2.9" height="1.4" fill="#1a1616"/><rect x="33.9" y="287.2" width="2.9" height="1.4" fill="#1a1616"/><rect x="33.9" y="290.5" width="2.9" height="1.4" fill="#1a1616"/><rect x="33.9" y="293.8" width="2.9" height="1.4" fill="#1a1616"/><rect x="33.9" y="297.1" width="2.9" height="1.4" fill="#1a1616"/><rect x="32.2" y="300.4" width="4.6" height="1.4" fill="#1a1616"/><text x="10.6" y="304.3" font-size="8.2" fill="#2a2630" stroke="#2a2630" stroke-width="0.12" textLength="18.3" lengthAdjust="spacing">3650</text><rect x="33.9" y="303.7" width="2.9" height="1.4" fill="#1a1616"/><rect x="33.9" y="307.1" width="2.9" height="1.4" fill="#1a1616"/><rect x="33.9" y="310.4" width="2.9" height="1.4" fill="#1a1616"/><rect x="33.9" y="313.7" width="2.9" height="1.4" fill="#1a1616"/><rect x="33.9" y="317.0" width="2.9" height="1.4" fill="#1a1616"/><rect x="33.9" y="320.3" width="2.9" height="1.4" fill="#1a1616"/><rect x="33.9" y="323.6" width="2.9" height="1.4" fill="#1a1616"/><rect x="33.9" y="327.0" width="2.9" height="1.4" fill="#1a1616"/><rect x="33.9" y="330.3" width="2.9" height="1.4" fill="#1a1616"/><rect x="32.2" y="333.6" width="4.6" height="1.4" fill="#1a1616"/><text x="10.6" y="337.5" font-size="8.2" fill="#2a2630" stroke="#2a2630" stroke-width="0.12" textLength="18.3" lengthAdjust="spacing">3660</text><rect x="33.9" y="336.9" width="2.9" height="1.4" fill="#1a1616"/><rect x="33.9" y="340.2" width="2.9" height="1.4" fill="#1a1616"/><rect x="33.9" y="343.5" width="2.9" height="1.4" fill="#1a1616"/><rect x="33.9" y="346.9" width="2.9" height="1.4" fill="#1a1616"/><rect x="33.9" y="350.2" width="2.9" height="1.4" fill="#1a1616"/><rect x="33.9" y="353.5" width="2.9" height="1.4" fill="#1a1616"/><rect x="33.9" y="356.8" width="2.9" height="1.4" fill="#1a1616"/><rect x="33.9" y="360.1" width="2.9" height="1.4" fill="#1a1616"/><rect x="33.9" y="363.4" width="2.9" height="1.4" fill="#1a1616"/><rect x="32.2" y="366.8" width="4.6" height="1.4" fill="#1a1616"/><text x="10.6" y="370.7" font-size="8.2" fill="#2a2630" stroke="#2a2630" stroke-width="0.12" textLength="18.3" lengthAdjust="spacing">3670</text><rect x="33.9" y="370.1" width="2.9" height="1.4" fill="#1a1616"/><rect x="33.9" y="373.4" width="2.9" height="1.4" fill="#1a1616"/><rect x="33.9" y="376.7" width="2.9" height="1.4" fill="#1a1616"/><rect x="33.9" y="380.0" width="2.9" height="1.4" fill="#1a1616"/><rect x="33.9" y="383.3" width="2.9" height="1.4" fill="#1a1616"/><rect x="33.9" y="386.7" width="2.9" height="1.4" fill="#1a1616"/><rect x="33.9" y="390.0" width="2.9" height="1.4" fill="#1a1616"/><rect x="33.9" y="393.3" width="2.9" height="1.4" fill="#1a1616"/><rect x="33.9" y="396.6" width="2.9" height="1.4" fill="#1a1616"/><rect x="32.2" y="399.9" width="4.6" height="1.4" fill="#1a1616"/><text x="10.6" y="403.8" font-size="8.2" fill="#2a2630" stroke="#2a2630" stroke-width="0.12" textLength="18.3" lengthAdjust="spacing">3680</text><rect x="33.9" y="403.2" width="2.9" height="1.4" fill="#1a1616"/><rect x="33.9" y="406.6" width="2.9" height="1.4" fill="#1a1616"/><rect x="33.9" y="409.9" width="2.9" height="1.4" fill="#1a1616"/><rect x="33.9" y="413.2" width="2.9" height="1.4" fill="#1a1616"/><rect x="33.9" y="416.5" width="2.9" height="1.4" fill="#1a1616"/><rect x="33.9" y="419.8" width="2.9" height="1.4" fill="#1a1616"/><rect x="33.9" y="423.1" width="2.9" height="1.4" fill="#1a1616"/><text x="7" y="61.3" font-size="8.2" fill="#2a2630" stroke="#2a2630" stroke-width="0.2" textLength="25.4" lengthAdjust="spacing">3575.7</text><rect x="4.2" y="73" width="541.2" height="2" fill="#f4563e"/><rect x="5.5" y="3.8" width="533.5" height="13.4" fill="#6bcabc"/><rect x="5.5" y="17.3" width="533.5" height="35" fill="#b5ada9"/><rect x="5" y="51.8" width="534.5" height="2.4" fill="#ffffff"/><line x1="5" y1="3.9" x2="539.5" y2="3.9" stroke="#3c3636" stroke-width="1.2"/><line x1="5" y1="17.2" x2="539.5" y2="17.2" stroke="#3c3636" stroke-width="1.1"/><line x1="5" y1="29.2" x2="539.5" y2="29.2" stroke="#3c3636" stroke-width="1.1"/><line x1="5" y1="41" x2="539.5" y2="41" stroke="#3c3636" stroke-width="1.1"/><defs><linearGradient id="vsfade" x1="0" x2="1" y1="0" y2="0"><stop offset="0" stop-color="#fff" stop-opacity="0"/><stop offset="1" stop-color="#fff" stop-opacity="0.3"/></linearGradient><linearGradient id="g_ai" x1="0" x2="1" y1="0" y2="0"><stop offset="0" stop-color="#f04020"/><stop offset="0.15" stop-color="#f04a20"/><stop offset="0.22" stop-color="#f89020"/><stop offset="0.3" stop-color="#f0e010"/><stop offset="0.4" stop-color="#90c830"/><stop offset="0.5" stop-color="#20a850"/><stop offset="0.62" stop-color="#10907a"/><stop offset="0.7" stop-color="#108080"/><stop offset="0.8" stop-color="#283a80"/><stop offset="0.88" stop-color="#3a2a7a"/><stop offset="1" stop-color="#4a2070"/></linearGradient><linearGradient id="g_vp" x1="0" x2="1" y1="0" y2="0"><stop offset="0" stop-color="#f03c1e"/><stop offset="0.16" stop-color="#f04a20"/><stop offset="0.26" stop-color="#d08c20"/><stop offset="0.36" stop-color="#e8d410"/><stop offset="0.46" stop-color="#60b830"/><stop offset="0.6" stop-color="#10a040"/><stop offset="0.72" stop-color="#109060"/><stop offset="0.8" stop-color="#1a6a9a"/><stop offset="0.88" stop-color="#3a3a90"/><stop offset="1" stop-color="#5a2080"/></linearGradient><linearGradient id="g_phi" x1="0" x2="1" y1="0" y2="0"><stop offset="0" stop-color="#f04020"/><stop offset="0.45" stop-color="#f05020"/><stop offset="0.6" stop-color="#f08a20"/><stop offset="0.75" stop-color="#f0d810"/><stop offset="0.85" stop-color="#c0d820"/><stop offset="0.93" stop-color="#50b040"/><stop offset="0.97" stop-color="#20a0a0"/><stop offset="1" stop-color="#3080c0"/></linearGradient><linearGradient id="g_vs" x1="0" x2="1" y1="0" y2="0"><stop offset="0" stop-color="#f02020"/><stop offset="0.08" stop-color="#f04040"/><stop offset="0.3" stop-color="#f8f0f0"/><stop offset="0.45" stop-color="#d8cce8"/><stop offset="0.65" stop-color="#9070c0"/><stop offset="0.8" stop-color="#6a3aa0"/><stop offset="1" stop-color="#5a2090"/></linearGradient></defs><rect x="37.8" y="41.8" width="77" height="10" fill="url(#g_ai)"/><rect x="116.3" y="41.8" width="77" height="10" fill="url(#g_vp)"/><rect x="194.8" y="41.8" width="77.2" height="10" fill="url(#g_phi)"/><rect x="273.5" y="41.8" width="77" height="10" fill="#4a7ab8"/><rect x="351.8" y="41.8" width="77" height="10" fill="url(#g_vs)"/><rect x="430.4" y="17.8" width="4.8" height="11.2" fill="#ece8e6"/><rect x="435.1" y="17.8" width="4.8" height="11.2" fill="#f04a28"/><rect x="439.8" y="17.8" width="5.9" height="11.2" fill="#f8a020"/><rect x="445.6" y="17.8" width="4.9" height="11.2" fill="#90cc28"/><rect x="450.4" y="17.8" width="5.9" height="11.2" fill="#48cccc"/><rect x="456.2" y="17.8" width="4.4" height="11.2" fill="#5a2090"/><line x1="432" y1="23.2" x2="455" y2="23.2" stroke="#333" stroke-width="0.7" stroke-dasharray="1.2,1.6"/><rect x="430.4" y="29.8" width="29.6" height="22.5" fill="#b5ada9"/><line x1="37" y1="17" x2="37" y2="51.8" stroke="#3c3636" stroke-width="1.5"/><line x1="115.5" y1="17" x2="115.5" y2="51.8" stroke="#3c3636" stroke-width="1.5"/><line x1="194" y1="17" x2="194" y2="51.8" stroke="#3c3636" stroke-width="1.5"/><line x1="272.7" y1="17" x2="272.7" y2="51.8" stroke="#3c3636" stroke-width="1.5"/><line x1="351" y1="17" x2="351" y2="51.8" stroke="#3c3636" stroke-width="1.5"/><line x1="429.6" y1="17" x2="429.6" y2="51.8" stroke="#3c3636" stroke-width="1.5"/><line x1="460.7" y1="17" x2="460.7" y2="51.8" stroke="#3c3636" stroke-width="1.5"/><line x1="5.6" y1="3.3" x2="5.6" y2="51.8" stroke="#3c3636" stroke-width="1.5"/><line x1="539" y1="3.3" x2="539" y2="51.8" stroke="#3c3636" stroke-width="1.6"/><path d="M38.0 27.4 V30.4 M114.5 27.4 V30.4" stroke="#3c3636" stroke-width="0.8"/><path d="M38.5 29.2 l3 -1.5 v3z M114 29.2 l-3 -1.5 v3z" fill="#3c3636"/><path d="M116.5 27.4 V30.4 M193.0 27.4 V30.4" stroke="#3c3636" stroke-width="0.8"/><path d="M117 29.2 l3 -1.5 v3z M192.5 29.2 l-3 -1.5 v3z" fill="#3c3636"/><path d="M195.0 27.4 V30.4 M271.7 27.4 V30.4" stroke="#3c3636" stroke-width="0.8"/><path d="M195.5 29.2 l3 -1.5 v3z M271.2 29.2 l-3 -1.5 v3z" fill="#3c3636"/><path d="M273.7 27.4 V30.4 M350.0 27.4 V30.4" stroke="#3c3636" stroke-width="0.8"/><path d="M274.2 29.2 l3 -1.5 v3z M349.5 29.2 l-3 -1.5 v3z" fill="#3c3636"/><path d="M352.0 27.4 V30.4 M428.5 27.4 V30.4" stroke="#3c3636" stroke-width="0.8"/><path d="M352.5 29.2 l3 -1.5 v3z M428 29.2 l-3 -1.5 v3z" fill="#3c3636"/><path d="M461.7 27.4 V30.4 M538.0 27.4 V30.4" stroke="#3c3636" stroke-width="0.8"/><path d="M462.2 29.2 l3 -1.5 v3z M537.5 29.2 l-3 -1.5 v3z" fill="#3c3636"/><text x="14.6" y="26.6" font-size="8.3" text-anchor="start" fill="#2e2a36" stroke="#2e2a36" stroke-width="0.22" letter-spacing="0" textLength="12.4" lengthAdjust="spacing" >MD</text><text x="72.2" y="26.6" font-size="8.3" text-anchor="start" fill="#2e2a36" stroke="#2e2a36" stroke-width="0.22" letter-spacing="0" textLength="7.4" lengthAdjust="spacing" >AI</text><text x="144" y="26.6" font-size="8.3" text-anchor="start" fill="#2e2a36" stroke="#2e2a36" stroke-width="0.22" letter-spacing="0" textLength="21" lengthAdjust="spacing" >VpVs</text><text x="225.4" y="26.6" font-size="8.3" text-anchor="start" fill="#2e2a36" stroke="#2e2a36" stroke-width="0.22" letter-spacing="0" textLength="14.9" lengthAdjust="spacing" >PHI</text><text x="302.7" y="26.6" font-size="8.3" text-anchor="start" fill="#2e2a36" stroke="#2e2a36" stroke-width="0.22" letter-spacing="0" textLength="18.7" lengthAdjust="spacing" >1-Sw</text><text x="373.7" y="26.6" font-size="8.3" text-anchor="start" fill="#2e2a36" stroke="#2e2a36" stroke-width="0.22" letter-spacing="0" textLength="35.0" lengthAdjust="spacing" >Vstonley</text><text x="479.2" y="26.6" font-size="8.3" text-anchor="start" fill="#2e2a36" stroke="#2e2a36" stroke-width="0.22" letter-spacing="0" textLength="44.3" lengthAdjust="spacing" >STENnorm</text><text x="11.1" y="38.3" font-size="8.3" text-anchor="start" fill="#2e2a36" stroke="#2e2a36" stroke-width="0.22" letter-spacing="0" textLength="20.4" lengthAdjust="spacing" >1:915</text><text x="38.6" y="38.3" font-size="8.3" text-anchor="start" fill="#2e2a36" stroke="#2e2a36" stroke-width="0.22" letter-spacing="0" textLength="76.8" lengthAdjust="spacing" >10.07 kPa.s/m 21.70</text><text x="117.5" y="38.3" font-size="8.3" text-anchor="start" fill="#2e2a36" stroke="#2e2a36" stroke-width="0.22" letter-spacing="0" textLength="15.6" lengthAdjust="spacing" >1.44</text><text x="175.7" y="38.3" font-size="8.3" text-anchor="start" fill="#2e2a36" stroke="#2e2a36" stroke-width="0.22" letter-spacing="0" textLength="16.8" lengthAdjust="spacing" >2.14</text><text x="196.6" y="38.3" font-size="7.7" text-anchor="start" fill="#2e2a36" stroke="#2e2a36" stroke-width="0.22" letter-spacing="0.1" >-0.0188 m<tspan font-size="5" dy="-3">3</tspan><tspan dy="3">/m</tspan><tspan font-size="5" dy="-3">3</tspan><tspan dy="3"> 0.2072</tspan></text><text x="274.2" y="38.3" font-size="8.3" text-anchor="start" fill="#2e2a36" stroke="#2e2a36" stroke-width="0.22" letter-spacing="0" textLength="30.8" lengthAdjust="spacing" >-0.0950</text><text x="322.6" y="38.3" font-size="8.3" text-anchor="start" fill="#2e2a36" stroke="#2e2a36" stroke-width="0.22" letter-spacing="0" textLength="26.2" lengthAdjust="spacing" >1.0450</text><text x="352.5" y="38.3" font-size="8.3" text-anchor="start" fill="#2e2a36" stroke="#2e2a36" stroke-width="0.22" letter-spacing="0" textLength="17.5" lengthAdjust="spacing" >1.36</text><text x="381.2" y="38.3" font-size="8.3" text-anchor="start" fill="#2e2a36" stroke="#2e2a36" stroke-width="0.22" letter-spacing="0" textLength="17.5" lengthAdjust="spacing" >km/s</text><text x="412.3" y="38.3" font-size="8.3" text-anchor="start" fill="#2e2a36" stroke="#2e2a36" stroke-width="0.22" letter-spacing="0" textLength="16.4" lengthAdjust="spacing" >1.61</text><text x="462.8" y="38.3" font-size="8.3" text-anchor="start" fill="#2e2a36" stroke="#2e2a36" stroke-width="0.22" letter-spacing="0" textLength="29.1" lengthAdjust="spacing" >-0.1000</text><text x="512" y="38.3" font-size="8.3" text-anchor="start" fill="#2e2a36" stroke="#2e2a36" stroke-width="0.22" letter-spacing="0" textLength="26.4" lengthAdjust="spacing" >1.1000</text><text x="60.39999999999999" y="50.2" font-size="8.3" text-anchor="start" fill="#2e2a36" stroke="#2e2a36" stroke-width="0.22" letter-spacing="0" textLength="33.4" lengthAdjust="spacing" >Color fill</text><text x="138.4" y="50.2" font-size="8.3" text-anchor="start" fill="#2e2a36" stroke="#2e2a36" stroke-width="0.22" letter-spacing="0" textLength="33.4" lengthAdjust="spacing" >Color fill</text><text x="218.3" y="50.2" font-size="8.3" text-anchor="start" fill="#2e2a36" stroke="#2e2a36" stroke-width="0.22" letter-spacing="0" textLength="33.4" lengthAdjust="spacing" >Color fill</text><text x="295.90000000000003" y="50.2" font-size="8.3" text-anchor="start" fill="#2e2a36" stroke="#2e2a36" stroke-width="0.22" letter-spacing="0" textLength="33.4" lengthAdjust="spacing" >Color fill</text><text x="375.8" y="50.2" font-size="8.3" text-anchor="start" fill="#2e2a36" stroke="#2e2a36" stroke-width="0.22" letter-spacing="0" textLength="33.4" lengthAdjust="spacing" >Color fill</text><text x="479.2" y="50.2" font-size="8.3" text-anchor="start" fill="#2e2a36" stroke="#2e2a36" stroke-width="0.22" letter-spacing="0" textLength="43.0" lengthAdjust="spacing" >DTSTnorm</text><circle cx="246.2" cy="10" r="3.6" fill="#0a0a0a"/><text x="254.5" y="13.8" font-size="10.4" text-anchor="start" fill="#1c3a4a" stroke="#1c3a4a" stroke-width="0.1" letter-spacing="0" textLength="50.0" lengthAdjust="spacing" >G-9K [MD]</text><path d="M540 10.3 l5 -2.8 v5.6z" fill="#111"/><path d="M544 10.3 h3" stroke="#111" stroke-width="0.8"/><path d="M4 8.5 v4" stroke="#222" stroke-width="1.5"/></svg>
</body></html>
